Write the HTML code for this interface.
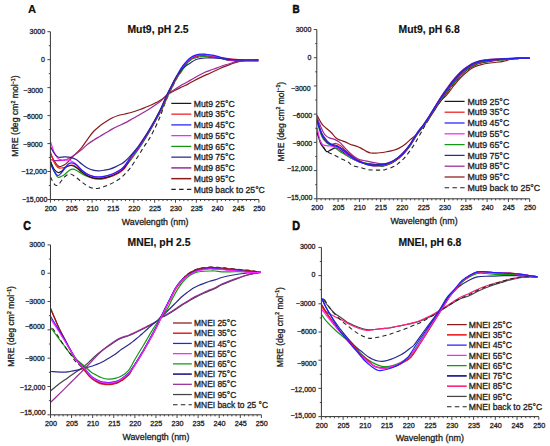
<!DOCTYPE html><html><head><meta charset="utf-8"><style>html,body{margin:0;padding:0;background:#fff;}svg{display:block;}text{font-family:"Liberation Sans", sans-serif;} .t{stroke:#1e1e1e;stroke-width:0.3;} .tb{stroke:#111;stroke-width:0.15;} .tl{stroke:#000;stroke-width:0.55px;}</style></head><body>
<svg width="550" height="446" viewBox="0 0 550 446">
<rect width="550" height="446" fill="#fff"/>
<g><path d="M50.50,153.80 C51.08,154.92 52.67,158.43 54.00,160.50 C55.33,162.57 57.17,165.28 58.50,166.20 C59.83,167.12 60.72,166.43 62.00,166.00 C63.28,165.57 64.70,164.85 66.20,163.60 C67.70,162.35 69.53,160.03 71.00,158.50 C72.47,156.97 73.30,156.12 75.00,154.40 C76.70,152.68 79.15,150.67 81.20,148.20 C83.25,145.73 85.25,142.38 87.30,139.60 C89.35,136.82 91.43,133.77 93.50,131.50 C95.57,129.23 97.63,127.63 99.70,126.00 C101.77,124.37 103.85,123.03 105.90,121.70 C107.95,120.37 109.95,119.03 112.00,118.00 C114.05,116.97 116.03,116.17 118.20,115.50 C120.37,114.83 122.87,114.50 125.00,114.00 C127.13,113.50 128.50,113.25 131.00,112.50 C133.50,111.75 137.57,110.37 140.00,109.50 C142.43,108.63 143.73,108.05 145.60,107.30 C147.47,106.55 149.33,105.85 151.20,105.00 C153.07,104.15 155.12,103.07 156.80,102.20 C158.48,101.33 159.52,101.03 161.30,99.80 C163.08,98.57 165.28,96.35 167.50,94.80 C169.72,93.25 172.12,91.85 174.60,90.50 C177.08,89.15 180.17,87.77 182.40,86.70 C184.63,85.63 186.07,85.10 188.00,84.10 C189.93,83.10 191.97,81.78 194.00,80.70 C196.03,79.62 198.38,78.48 200.20,77.60 C202.02,76.72 203.27,76.13 204.90,75.40 C206.53,74.67 208.48,73.90 210.00,73.20 C211.52,72.50 212.33,71.98 214.00,71.20 C215.67,70.42 218.05,69.35 220.00,68.50 C221.95,67.65 223.88,66.83 225.70,66.10 C227.52,65.37 229.17,64.73 230.90,64.10 C232.63,63.47 234.37,62.80 236.10,62.30 C237.83,61.80 239.57,61.40 241.30,61.10 C243.03,60.80 243.65,60.68 246.50,60.50 C249.35,60.32 256.42,60.08 258.40,60.00" fill="none" stroke="#8a1a1a" stroke-width="1.2" stroke-linejoin="round"/><path d="M50.50,159.50 C51.08,159.68 52.75,160.42 54.00,160.60 C55.25,160.78 56.67,160.63 58.00,160.60 C59.33,160.57 60.62,160.57 62.00,160.40 C63.38,160.23 64.80,160.12 66.30,159.60 C67.80,159.08 69.55,158.13 71.00,157.30 C72.45,156.47 73.30,155.80 75.00,154.60 C76.70,153.40 79.15,151.78 81.20,150.10 C83.25,148.42 85.25,146.15 87.30,144.50 C89.35,142.85 91.43,141.53 93.50,140.20 C95.57,138.87 97.63,137.73 99.70,136.50 C101.77,135.27 103.85,134.03 105.90,132.80 C107.95,131.57 109.95,130.23 112.00,129.10 C114.05,127.97 116.03,127.03 118.20,126.00 C120.37,124.97 122.87,123.97 125.00,122.90 C127.13,121.83 128.50,120.98 131.00,119.60 C133.50,118.22 137.57,116.00 140.00,114.60 C142.43,113.20 143.73,112.33 145.60,111.20 C147.47,110.07 149.33,109.02 151.20,107.80 C153.07,106.58 155.12,105.10 156.80,103.90 C158.48,102.70 159.52,102.15 161.30,100.60 C163.08,99.05 165.28,96.43 167.50,94.60 C169.72,92.77 172.12,91.27 174.60,89.60 C177.08,87.93 180.17,85.95 182.40,84.60 C184.63,83.25 186.03,82.58 188.00,81.50 C189.97,80.42 192.50,79.07 194.20,78.10 C195.90,77.13 196.42,76.67 198.20,75.70 C199.98,74.73 202.93,73.18 204.90,72.30 C206.87,71.42 208.48,70.95 210.00,70.40 C211.52,69.85 212.33,69.62 214.00,69.00 C215.67,68.38 218.05,67.40 220.00,66.70 C221.95,66.00 223.88,65.38 225.70,64.80 C227.52,64.22 229.17,63.72 230.90,63.20 C232.63,62.68 234.37,62.10 236.10,61.70 C237.83,61.30 239.57,61.03 241.30,60.80 C243.03,60.57 243.65,60.43 246.50,60.30 C249.35,60.17 256.42,60.05 258.40,60.00" fill="none" stroke="#9a2a9a" stroke-width="1.2" stroke-linejoin="round"/><path d="M50.50,177.00 C51.20,178.27 53.45,183.27 54.70,184.60 C55.95,185.93 56.78,185.77 58.00,185.00 C59.22,184.23 60.83,181.42 62.00,180.00 C63.17,178.58 63.60,177.50 65.00,176.50 C66.40,175.50 68.53,173.83 70.40,174.00 C72.27,174.17 74.30,176.17 76.20,177.50 C78.10,178.83 79.93,180.60 81.80,182.00 C83.67,183.40 85.53,184.87 87.40,185.90 C89.27,186.93 91.13,187.82 93.00,188.20 C94.87,188.58 96.72,188.48 98.60,188.20 C100.48,187.92 102.42,187.15 104.30,186.50 C106.18,185.85 108.03,185.15 109.90,184.30 C111.77,183.45 113.63,182.48 115.50,181.40 C117.37,180.32 119.52,179.07 121.10,177.80 C122.68,176.53 123.52,175.38 125.00,173.80 C126.48,172.22 128.03,170.90 130.00,168.30 C131.97,165.70 134.57,161.65 136.80,158.20 C139.03,154.75 141.37,150.77 143.40,147.60 C145.43,144.43 147.13,142.33 149.00,139.20 C150.87,136.07 152.73,132.58 154.60,128.80 C156.47,125.02 158.62,120.38 160.20,116.50 C161.78,112.62 163.03,108.42 164.10,105.50 C165.17,102.58 165.75,101.00 166.60,99.00 C167.45,97.00 168.35,95.30 169.20,93.50 C170.05,91.70 170.83,89.98 171.70,88.20 C172.57,86.42 173.50,84.53 174.40,82.80 C175.30,81.07 176.08,79.48 177.10,77.80 C178.12,76.12 179.43,74.27 180.50,72.70 C181.57,71.13 182.23,70.18 183.50,68.40 C184.77,66.62 186.77,63.52 188.10,62.00 C189.43,60.48 190.27,60.03 191.50,59.30 C192.73,58.57 193.93,58.05 195.50,57.60 C197.07,57.15 199.08,56.77 200.90,56.60 C202.72,56.43 204.58,56.50 206.40,56.60 C208.22,56.70 209.53,56.97 211.80,57.20 C214.07,57.43 217.68,57.65 220.00,58.00 C222.32,58.35 223.88,59.00 225.70,59.30 C227.52,59.60 229.17,59.68 230.90,59.80 C232.63,59.92 233.50,59.97 236.10,60.00 C238.70,60.03 242.78,60.00 246.50,60.00 C250.22,60.00 256.42,60.00 258.40,60.00" fill="none" stroke="#222222" stroke-width="1.1" stroke-dasharray="4.2,3.2" stroke-linejoin="round"/><path d="M50.50,161.50 C51.08,163.08 52.75,168.37 54.00,171.00 C55.25,173.63 56.67,176.47 58.00,177.30 C59.33,178.13 60.83,176.52 62.00,176.00 C63.17,175.48 63.75,175.17 65.00,174.20 C66.25,173.23 68.18,171.05 69.50,170.20 C70.82,169.35 71.78,169.10 72.90,169.10 C74.02,169.10 74.72,169.45 76.20,170.20 C77.68,170.95 79.93,172.57 81.80,173.60 C83.67,174.63 85.53,175.65 87.40,176.40 C89.27,177.15 91.13,177.73 93.00,178.10 C94.87,178.47 96.72,178.60 98.60,178.60 C100.48,178.60 102.42,178.47 104.30,178.10 C106.18,177.73 108.03,177.05 109.90,176.40 C111.77,175.75 113.63,175.13 115.50,174.20 C117.37,173.27 119.52,171.97 121.10,170.80 C122.68,169.63 123.23,169.23 125.00,167.20 C126.77,165.17 129.45,161.60 131.70,158.60 C133.95,155.60 136.18,152.62 138.50,149.20 C140.82,145.78 143.48,141.55 145.60,138.10 C147.72,134.65 149.33,131.77 151.20,128.50 C153.07,125.23 154.93,121.85 156.80,118.50 C158.67,115.15 160.80,111.55 162.40,108.40 C164.00,105.25 165.30,102.07 166.40,99.60 C167.50,97.13 168.12,95.50 169.00,93.60 C169.88,91.70 170.80,90.00 171.70,88.20 C172.60,86.40 173.50,84.53 174.40,82.80 C175.30,81.07 176.08,79.48 177.10,77.80 C178.12,76.12 179.43,74.27 180.50,72.70 C181.57,71.13 182.23,70.18 183.50,68.40 C184.77,66.62 186.77,63.52 188.10,62.00 C189.43,60.48 190.27,60.03 191.50,59.30 C192.73,58.57 193.93,58.05 195.50,57.60 C197.07,57.15 199.08,56.77 200.90,56.60 C202.72,56.43 204.58,56.50 206.40,56.60 C208.22,56.70 209.53,56.97 211.80,57.20 C214.07,57.43 217.68,57.65 220.00,58.00 C222.32,58.35 223.88,59.00 225.70,59.30 C227.52,59.60 229.17,59.68 230.90,59.80 C232.63,59.92 233.50,59.97 236.10,60.00 C238.70,60.03 242.78,60.00 246.50,60.00 C250.22,60.00 256.42,60.00 258.40,60.00" fill="none" stroke="#119911" stroke-width="1.2" stroke-linejoin="round"/><path d="M50.50,152.30 C51.08,153.92 52.75,159.47 54.00,162.00 C55.25,164.53 56.83,166.50 58.00,167.50 C59.17,168.50 59.83,168.02 61.00,168.00 C62.17,167.98 63.22,167.87 65.00,167.40 C66.78,166.93 69.83,165.28 71.70,165.20 C73.57,165.12 74.52,165.87 76.20,166.90 C77.88,167.93 79.93,169.92 81.80,171.40 C83.67,172.88 85.53,174.63 87.40,175.80 C89.27,176.97 91.13,177.83 93.00,178.40 C94.87,178.97 96.72,179.17 98.60,179.20 C100.48,179.23 102.42,178.97 104.30,178.60 C106.18,178.23 108.03,177.65 109.90,177.00 C111.77,176.35 113.63,175.63 115.50,174.70 C117.37,173.77 119.52,172.55 121.10,171.40 C122.68,170.25 123.23,170.19 125.00,167.80 C126.77,165.41 129.45,160.33 131.70,157.05 C133.95,153.77 136.20,151.39 138.50,148.10 C140.80,144.81 143.36,140.73 145.50,137.30 C147.64,133.87 149.47,130.76 151.35,127.50 C153.23,124.24 155.07,120.92 156.80,117.75 C158.53,114.58 160.32,111.41 161.75,108.50 C163.18,105.59 164.31,102.67 165.35,100.30 C166.39,97.93 167.11,96.21 168.00,94.30 C168.89,92.39 169.80,90.66 170.70,88.85 C171.60,87.04 172.50,85.22 173.40,83.45 C174.30,81.68 175.14,79.93 176.10,78.25 C177.06,76.57 178.09,75.03 179.15,73.35 C180.21,71.67 181.24,69.92 182.45,68.15 C183.66,66.38 185.17,64.18 186.40,62.75 C187.62,61.32 188.62,60.45 189.80,59.55 C190.98,58.65 192.16,57.94 193.50,57.35 C194.84,56.76 196.38,56.31 197.85,56.00 C199.32,55.69 200.83,55.56 202.30,55.50 C203.78,55.44 205.01,55.55 206.70,55.65 C208.39,55.75 210.73,55.88 212.45,56.10 C214.17,56.32 215.33,56.70 217.00,56.95 C218.67,57.20 220.61,57.33 222.45,57.60 C224.29,57.87 225.78,58.27 228.05,58.55 C230.33,58.83 233.33,59.11 236.10,59.30 C238.87,59.49 243.22,59.63 244.65,59.70" fill="none" stroke="#ee1c1c" stroke-width="1.2" stroke-linejoin="round"/><path d="M50.50,161.50 C51.08,162.75 52.75,167.17 54.00,169.00 C55.25,170.83 56.67,172.17 58.00,172.50 C59.33,172.83 60.67,171.92 62.00,171.00 C63.33,170.08 64.42,167.92 66.00,167.00 C67.58,166.08 69.80,165.42 71.50,165.50 C73.20,165.58 74.48,166.42 76.20,167.50 C77.92,168.58 79.93,170.62 81.80,172.00 C83.67,173.38 85.53,174.83 87.40,175.80 C89.27,176.77 91.13,177.38 93.00,177.80 C94.87,178.22 96.72,178.30 98.60,178.30 C100.48,178.30 102.42,178.12 104.30,177.80 C106.18,177.48 108.03,177.03 109.90,176.40 C111.77,175.77 113.63,174.98 115.50,174.00 C117.37,173.02 119.52,171.70 121.10,170.50 C122.68,169.30 123.23,169.13 125.00,166.80 C126.77,164.47 129.45,159.63 131.70,156.50 C133.95,153.37 136.22,151.17 138.50,148.00 C140.78,144.83 143.23,140.92 145.40,137.50 C147.57,134.08 149.60,130.75 151.50,127.50 C153.40,124.25 155.20,120.98 156.80,118.00 C158.40,115.02 159.85,112.27 161.10,109.60 C162.35,106.93 163.32,104.27 164.30,102.00 C165.28,99.73 166.10,97.92 167.00,96.00 C167.90,94.08 168.80,92.32 169.70,90.50 C170.60,88.68 171.50,86.90 172.40,85.10 C173.30,83.30 174.20,81.38 175.10,79.70 C176.00,78.02 176.75,76.80 177.80,75.00 C178.85,73.20 180.25,70.65 181.40,68.90 C182.55,67.15 183.58,65.85 184.70,64.50 C185.82,63.15 186.97,61.87 188.10,60.80 C189.23,59.73 190.38,58.83 191.50,58.10 C192.62,57.37 193.68,56.85 194.80,56.40 C195.92,55.95 197.07,55.62 198.20,55.40 C199.33,55.18 200.48,55.13 201.60,55.10 C202.72,55.07 203.78,55.12 204.90,55.20 C206.02,55.28 206.78,55.40 208.30,55.60 C209.82,55.80 212.05,55.98 214.00,56.40 C215.95,56.82 218.05,57.57 220.00,58.10 C221.95,58.63 223.88,59.22 225.70,59.60 C227.52,59.98 229.17,60.20 230.90,60.40 C232.63,60.60 233.50,60.70 236.10,60.80 C238.70,60.90 242.78,60.97 246.50,61.00 C250.22,61.03 256.42,61.00 258.40,61.00" fill="none" stroke="#1a1a1a" stroke-width="1.2" stroke-linejoin="round"/><path d="M50.50,141.80 C51.08,143.50 52.77,149.23 54.00,152.00 C55.23,154.77 56.47,157.03 57.90,158.40 C59.33,159.77 61.42,159.97 62.60,160.20 C63.78,160.43 63.67,159.72 65.00,159.80 C66.33,159.88 68.73,159.98 70.60,160.70 C72.47,161.41 74.33,162.51 76.20,164.09 C78.07,165.67 79.93,168.53 81.80,170.20 C83.67,171.87 85.53,173.08 87.40,174.10 C89.27,175.12 91.13,175.83 93.00,176.30 C94.87,176.77 96.72,176.90 98.60,176.90 C100.48,176.90 102.42,176.58 104.30,176.30 C106.18,176.02 108.03,175.75 109.90,175.20 C111.77,174.65 113.63,173.93 115.50,173.00 C117.37,172.07 119.52,170.87 121.10,169.60 C122.68,168.33 123.23,167.62 125.00,165.40 C126.77,163.18 129.45,159.23 131.70,156.30 C133.95,153.37 136.22,150.97 138.50,147.80 C140.78,144.63 143.23,140.72 145.40,137.30 C147.57,133.88 149.60,130.55 151.50,127.30 C153.40,124.05 155.20,120.78 156.80,117.80 C158.40,114.82 159.85,112.07 161.10,109.40 C162.35,106.73 163.32,104.07 164.30,101.80 C165.28,99.53 166.10,97.72 167.00,95.80 C167.90,93.88 168.80,92.12 169.70,90.30 C170.60,88.48 171.50,86.70 172.40,84.90 C173.30,83.10 174.20,81.18 175.10,79.50 C176.00,77.82 176.75,76.60 177.80,74.80 C178.85,73.00 180.25,70.45 181.40,68.70 C182.55,66.95 183.58,65.65 184.70,64.30 C185.82,62.95 186.97,61.67 188.10,60.60 C189.23,59.53 190.38,58.63 191.50,57.90 C192.62,57.17 193.68,56.65 194.80,56.20 C195.92,55.75 197.07,55.42 198.20,55.20 C199.33,54.98 200.48,54.93 201.60,54.90 C202.72,54.87 203.78,54.92 204.90,55.00 C206.02,55.08 206.78,55.20 208.30,55.40 C209.82,55.60 212.05,55.78 214.00,56.20 C215.95,56.62 218.05,57.37 220.00,57.90 C221.95,58.43 223.88,59.02 225.70,59.40 C227.52,59.78 229.17,60.00 230.90,60.20 C232.63,60.40 233.50,60.50 236.10,60.60 C238.70,60.70 242.78,60.77 246.50,60.80 C250.22,60.83 256.42,60.80 258.40,60.80" fill="none" stroke="#ff20ff" stroke-width="1.2" stroke-linejoin="round"/><path d="M50.50,164.00 C51.08,165.17 52.75,169.08 54.00,171.00 C55.25,172.92 56.67,175.33 58.00,175.50 C59.33,175.67 60.83,173.25 62.00,172.00 C63.17,170.75 63.93,169.32 65.00,168.00 C66.07,166.68 67.28,164.95 68.40,164.10 C69.52,163.25 70.40,162.78 71.70,162.90 C73.00,163.02 74.52,163.59 76.20,164.82 C77.88,166.05 79.93,168.74 81.80,170.30 C83.67,171.86 85.53,173.18 87.40,174.20 C89.27,175.22 91.13,175.93 93.00,176.40 C94.87,176.87 96.72,177.00 98.60,177.00 C100.48,177.00 102.42,176.77 104.30,176.40 C106.18,176.03 108.03,175.45 109.90,174.80 C111.77,174.15 113.63,173.43 115.50,172.50 C117.37,171.57 119.52,170.40 121.10,169.20 C122.68,168.00 123.23,167.58 125.00,165.30 C126.77,163.02 129.45,158.55 131.70,155.50 C133.95,152.45 136.22,150.17 138.50,147.00 C140.78,143.83 143.23,139.92 145.40,136.50 C147.57,133.08 149.60,129.75 151.50,126.50 C153.40,123.25 155.20,119.98 156.80,117.00 C158.40,114.02 159.85,111.27 161.10,108.60 C162.35,105.93 163.32,103.27 164.30,101.00 C165.28,98.73 166.10,96.92 167.00,95.00 C167.90,93.08 168.80,91.32 169.70,89.50 C170.60,87.68 171.50,85.90 172.40,84.10 C173.30,82.30 174.20,80.38 175.10,78.70 C176.00,77.02 176.75,75.80 177.80,74.00 C178.85,72.20 180.25,69.65 181.40,67.90 C182.55,66.15 183.58,64.85 184.70,63.50 C185.82,62.15 186.97,60.87 188.10,59.80 C189.23,58.73 190.38,57.83 191.50,57.10 C192.62,56.37 193.68,55.85 194.80,55.40 C195.92,54.95 197.07,54.62 198.20,54.40 C199.33,54.18 200.48,54.13 201.60,54.10 C202.72,54.07 203.78,54.12 204.90,54.20 C206.02,54.28 206.78,54.40 208.30,54.60 C209.82,54.80 212.05,54.98 214.00,55.40 C215.95,55.82 218.05,56.57 220.00,57.10 C221.95,57.63 223.88,58.22 225.70,58.60 C227.52,58.98 229.17,59.20 230.90,59.40 C232.63,59.60 233.50,59.70 236.10,59.80 C238.70,59.90 242.78,59.97 246.50,60.00 C250.22,60.03 256.42,60.00 258.40,60.00" fill="none" stroke="#2020ff" stroke-width="1.2" stroke-linejoin="round"/><path d="M50.50,146.70 C51.08,147.75 52.77,151.28 54.00,153.00 C55.23,154.72 56.43,156.32 57.90,157.00 C59.37,157.68 61.62,157.13 62.80,157.10 C63.98,157.07 63.70,156.77 65.00,156.80 C66.30,156.83 68.73,156.83 70.60,157.30 C72.47,157.77 74.33,158.47 76.20,159.60 C78.07,160.73 79.93,162.70 81.80,164.10 C83.67,165.50 85.53,166.98 87.40,168.00 C89.27,169.02 91.13,169.73 93.00,170.20 C94.87,170.67 96.72,170.80 98.60,170.80 C100.48,170.80 102.42,170.48 104.30,170.20 C106.18,169.92 108.03,169.65 109.90,169.10 C111.77,168.55 113.63,167.73 115.50,166.90 C117.37,166.07 119.52,165.03 121.10,164.10 C122.68,163.17 123.23,162.93 125.00,161.30 C126.77,159.67 129.45,156.85 131.70,154.30 C133.95,151.75 136.22,149.10 138.50,146.00 C140.78,142.90 143.23,139.08 145.40,135.70 C147.57,132.32 149.60,128.95 151.50,125.70 C153.40,122.45 155.20,119.15 156.80,116.20 C158.40,113.25 159.85,110.58 161.10,108.00 C162.35,105.42 163.32,102.92 164.30,100.70 C165.28,98.48 166.10,96.60 167.00,94.70 C167.90,92.80 168.80,91.08 169.70,89.30 C170.60,87.52 171.50,85.75 172.40,84.00 C173.30,82.25 174.20,80.38 175.10,78.80 C176.00,77.22 176.75,75.97 177.80,74.50 C178.85,73.03 180.25,71.30 181.40,70.00 C182.55,68.70 183.27,67.83 184.70,66.70 C186.13,65.57 188.20,64.37 190.00,63.20 C191.80,62.03 193.68,60.52 195.50,59.70 C197.32,58.88 199.08,58.58 200.90,58.30 C202.72,58.02 204.58,58.05 206.40,58.00 C208.22,57.95 209.53,57.93 211.80,58.00 C214.07,58.07 217.68,58.22 220.00,58.40 C222.32,58.58 223.02,58.87 225.70,59.10 C228.38,59.33 232.63,59.65 236.10,59.80 C239.57,59.95 242.78,59.97 246.50,60.00 C250.22,60.03 256.42,60.00 258.40,60.00" fill="none" stroke="#2a2a8e" stroke-width="1.2" stroke-linejoin="round"/><path d="M50.40,31.70 V199.50 H258.90" fill="none" stroke="#333" stroke-width="1"/><path d="M47.40,31.70 H50.40" stroke="#333" stroke-width="0.9"/><text class="t" x="45.10" y="34.00" font-size="7" text-anchor="end" fill="#1e1e1e">3000</text><path d="M48.80,45.68 H50.40" stroke="#333" stroke-width="0.9"/><path d="M47.40,59.67 H50.40" stroke="#333" stroke-width="0.9"/><text class="t" x="44.90" y="61.90" font-size="7" text-anchor="end" fill="#1e1e1e">0</text><path d="M48.80,73.65 H50.40" stroke="#333" stroke-width="0.9"/><path d="M47.40,87.63 H50.40" stroke="#333" stroke-width="0.9"/><text class="t" x="43.00" y="92.50" font-size="7" text-anchor="end" fill="#1e1e1e">−3000</text><path d="M48.80,101.62 H50.40" stroke="#333" stroke-width="0.9"/><path d="M47.40,115.60 H50.40" stroke="#333" stroke-width="0.9"/><text class="t" x="42.60" y="119.00" font-size="7" text-anchor="end" fill="#1e1e1e">−6000</text><path d="M48.80,129.58 H50.40" stroke="#333" stroke-width="0.9"/><path d="M47.40,143.57 H50.40" stroke="#333" stroke-width="0.9"/><text class="t" x="42.60" y="146.70" font-size="7" text-anchor="end" fill="#1e1e1e">−9000</text><path d="M48.80,157.55 H50.40" stroke="#333" stroke-width="0.9"/><path d="M47.40,171.53 H50.40" stroke="#333" stroke-width="0.9"/><text class="t" x="46.80" y="173.60" font-size="7" text-anchor="end" fill="#1e1e1e">−12,000</text><path d="M48.80,185.52 H50.40" stroke="#333" stroke-width="0.9"/><path d="M47.40,199.50 H50.40" stroke="#333" stroke-width="0.9"/><text class="t" x="47.40" y="202.10" font-size="7" text-anchor="end" fill="#1e1e1e">−15,000</text><path d="M50.40,199.50 V202.70" stroke="#333" stroke-width="0.9"/><text class="t" x="50.80" y="211.10" font-size="7.2" text-anchor="middle" fill="#1e1e1e">200</text><path d="M54.57,199.50 V201.10" stroke="#333" stroke-width="0.9"/><path d="M58.74,199.50 V201.10" stroke="#333" stroke-width="0.9"/><path d="M62.91,199.50 V201.10" stroke="#333" stroke-width="0.9"/><path d="M67.08,199.50 V201.10" stroke="#333" stroke-width="0.9"/><path d="M71.25,199.50 V202.70" stroke="#333" stroke-width="0.9"/><text class="t" x="71.65" y="211.10" font-size="7.2" text-anchor="middle" fill="#1e1e1e">205</text><path d="M75.42,199.50 V201.10" stroke="#333" stroke-width="0.9"/><path d="M79.59,199.50 V201.10" stroke="#333" stroke-width="0.9"/><path d="M83.76,199.50 V201.10" stroke="#333" stroke-width="0.9"/><path d="M87.93,199.50 V201.10" stroke="#333" stroke-width="0.9"/><path d="M92.10,199.50 V202.70" stroke="#333" stroke-width="0.9"/><text class="t" x="92.50" y="211.10" font-size="7.2" text-anchor="middle" fill="#1e1e1e">210</text><path d="M96.27,199.50 V201.10" stroke="#333" stroke-width="0.9"/><path d="M100.44,199.50 V201.10" stroke="#333" stroke-width="0.9"/><path d="M104.61,199.50 V201.10" stroke="#333" stroke-width="0.9"/><path d="M108.78,199.50 V201.10" stroke="#333" stroke-width="0.9"/><path d="M112.95,199.50 V202.70" stroke="#333" stroke-width="0.9"/><text class="t" x="113.35" y="211.10" font-size="7.2" text-anchor="middle" fill="#1e1e1e">215</text><path d="M117.12,199.50 V201.10" stroke="#333" stroke-width="0.9"/><path d="M121.29,199.50 V201.10" stroke="#333" stroke-width="0.9"/><path d="M125.46,199.50 V201.10" stroke="#333" stroke-width="0.9"/><path d="M129.63,199.50 V201.10" stroke="#333" stroke-width="0.9"/><path d="M133.80,199.50 V202.70" stroke="#333" stroke-width="0.9"/><text class="t" x="134.20" y="211.10" font-size="7.2" text-anchor="middle" fill="#1e1e1e">220</text><path d="M137.97,199.50 V201.10" stroke="#333" stroke-width="0.9"/><path d="M142.14,199.50 V201.10" stroke="#333" stroke-width="0.9"/><path d="M146.31,199.50 V201.10" stroke="#333" stroke-width="0.9"/><path d="M150.48,199.50 V201.10" stroke="#333" stroke-width="0.9"/><path d="M154.65,199.50 V202.70" stroke="#333" stroke-width="0.9"/><text class="t" x="155.05" y="211.10" font-size="7.2" text-anchor="middle" fill="#1e1e1e">225</text><path d="M158.82,199.50 V201.10" stroke="#333" stroke-width="0.9"/><path d="M162.99,199.50 V201.10" stroke="#333" stroke-width="0.9"/><path d="M167.16,199.50 V201.10" stroke="#333" stroke-width="0.9"/><path d="M171.33,199.50 V201.10" stroke="#333" stroke-width="0.9"/><path d="M175.50,199.50 V202.70" stroke="#333" stroke-width="0.9"/><text class="t" x="175.90" y="211.10" font-size="7.2" text-anchor="middle" fill="#1e1e1e">230</text><path d="M179.67,199.50 V201.10" stroke="#333" stroke-width="0.9"/><path d="M183.84,199.50 V201.10" stroke="#333" stroke-width="0.9"/><path d="M188.01,199.50 V201.10" stroke="#333" stroke-width="0.9"/><path d="M192.18,199.50 V201.10" stroke="#333" stroke-width="0.9"/><path d="M196.35,199.50 V202.70" stroke="#333" stroke-width="0.9"/><text class="t" x="196.75" y="211.10" font-size="7.2" text-anchor="middle" fill="#1e1e1e">235</text><path d="M200.52,199.50 V201.10" stroke="#333" stroke-width="0.9"/><path d="M204.69,199.50 V201.10" stroke="#333" stroke-width="0.9"/><path d="M208.86,199.50 V201.10" stroke="#333" stroke-width="0.9"/><path d="M213.03,199.50 V201.10" stroke="#333" stroke-width="0.9"/><path d="M217.20,199.50 V202.70" stroke="#333" stroke-width="0.9"/><text class="t" x="217.60" y="211.10" font-size="7.2" text-anchor="middle" fill="#1e1e1e">240</text><path d="M221.37,199.50 V201.10" stroke="#333" stroke-width="0.9"/><path d="M225.54,199.50 V201.10" stroke="#333" stroke-width="0.9"/><path d="M229.71,199.50 V201.10" stroke="#333" stroke-width="0.9"/><path d="M233.88,199.50 V201.10" stroke="#333" stroke-width="0.9"/><path d="M238.05,199.50 V202.70" stroke="#333" stroke-width="0.9"/><text class="t" x="238.45" y="211.10" font-size="7.2" text-anchor="middle" fill="#1e1e1e">245</text><path d="M242.22,199.50 V201.10" stroke="#333" stroke-width="0.9"/><path d="M246.39,199.50 V201.10" stroke="#333" stroke-width="0.9"/><path d="M250.56,199.50 V201.10" stroke="#333" stroke-width="0.9"/><path d="M254.73,199.50 V201.10" stroke="#333" stroke-width="0.9"/><path d="M258.90,199.50 V202.70" stroke="#333" stroke-width="0.9"/><text class="t" x="259.30" y="211.10" font-size="7.2" text-anchor="middle" fill="#1e1e1e">250</text><text class="t" x="155.20" y="224.50" font-size="8.8" text-anchor="middle" fill="#1e1e1e">Wavelength (nm)</text><text class="t" transform="translate(17.95,116.00) rotate(-90)" font-size="8.7" text-anchor="middle" fill="#1e1e1e">MRE (deg cm<tspan font-size="5.22" dy="-3.31">2</tspan><tspan dy="3.31"> mol</tspan><tspan font-size="5.22" dy="-3.31">−1</tspan><tspan dy="3.31">)</tspan></text><text class="tb" x="158.00" y="33.00" font-size="10.4" font-weight="bold" text-anchor="middle" fill="#111">Mut9, pH 2.5</text><text class="tb" transform="translate(28.00,12.60) scale(0.950,1)" font-size="11.80" font-weight="bold" fill="#111">A</text><path d="M171.30,103.40 H191.30" stroke="#1a1a1a" stroke-width="1.25"/><text class="t" x="193.80" y="106.55" font-size="8.65" fill="#1e1e1e">Mut9 25°C</text><path d="M171.30,114.15 H191.30" stroke="#ee1c1c" stroke-width="1.25"/><text class="t" x="193.80" y="117.30" font-size="8.65" fill="#1e1e1e">Mut9 35°C</text><path d="M171.30,124.90 H191.30" stroke="#2020ff" stroke-width="1.25"/><text class="t" x="193.80" y="128.05" font-size="8.65" fill="#1e1e1e">Mut9 45°C</text><path d="M171.30,135.65 H191.30" stroke="#ff20ff" stroke-width="1.25"/><text class="t" x="193.80" y="138.80" font-size="8.65" fill="#1e1e1e">Mut9 55°C</text><path d="M171.30,146.40 H191.30" stroke="#119911" stroke-width="1.25"/><text class="t" x="193.80" y="149.55" font-size="8.65" fill="#1e1e1e">Mut9 65°C</text><path d="M171.30,157.15 H191.30" stroke="#2a2a8e" stroke-width="1.25"/><text class="t" x="193.80" y="160.30" font-size="8.65" fill="#1e1e1e">Mut9 75°C</text><path d="M171.30,167.90 H191.30" stroke="#9a2a9a" stroke-width="1.50"/><text class="t" x="193.80" y="171.05" font-size="8.65" fill="#1e1e1e">Mut9 85°C</text><path d="M171.30,178.65 H191.30" stroke="#8a1a1a" stroke-width="1.50"/><text class="t" x="193.80" y="181.80" font-size="8.65" fill="#1e1e1e">Mut9 95°C</text><path d="M171.30,189.40 H191.30" stroke="#222222" stroke-width="1.1" stroke-dasharray="4.5,3.3"/><text class="t" x="193.80" y="192.55" font-size="8.65" fill="#1e1e1e">Mut9 back to 25°C</text></g>
<g><path d="M317.10,115.20 C317.88,116.63 320.22,121.58 321.80,123.80 C323.38,126.02 325.02,127.05 326.60,128.50 C328.18,129.95 329.73,130.92 331.30,132.50 C332.87,134.08 334.43,136.70 336.00,138.00 C337.57,139.30 339.13,139.65 340.70,140.30 C342.27,140.95 343.85,141.23 345.40,141.90 C346.95,142.57 348.32,143.63 350.00,144.30 C351.68,144.97 353.68,145.27 355.50,145.90 C357.32,146.53 359.08,147.18 360.90,148.10 C362.72,149.02 364.77,150.58 366.40,151.40 C368.03,152.22 368.88,152.73 370.70,153.00 C372.52,153.27 375.30,153.08 377.30,153.00 C379.30,152.92 380.88,152.77 382.70,152.50 C384.52,152.23 386.38,151.77 388.20,151.40 C390.02,151.03 391.78,150.85 393.60,150.30 C395.42,149.75 397.28,149.02 399.10,148.10 C400.92,147.18 402.68,146.17 404.50,144.80 C406.32,143.43 407.83,141.77 410.00,139.90 C412.17,138.03 415.28,135.87 417.50,133.60 C419.72,131.33 421.35,128.85 423.30,126.30 C425.25,123.75 427.25,121.08 429.20,118.30 C431.15,115.52 433.07,112.52 435.00,109.60 C436.93,106.68 438.83,103.27 440.80,100.80 C442.77,98.33 444.87,97.02 446.80,94.80 C448.73,92.58 450.53,89.88 452.40,87.50 C454.27,85.12 456.13,82.62 458.00,80.50 C459.87,78.38 461.72,76.57 463.60,74.80 C465.48,73.03 467.42,71.23 469.30,69.90 C471.18,68.57 473.03,67.65 474.90,66.80 C476.77,65.95 477.98,65.43 480.50,64.80 C483.02,64.17 486.37,63.53 490.00,63.00 C493.63,62.47 499.43,62.05 502.30,61.60 C505.17,61.15 505.38,60.78 507.20,60.30 C509.02,59.82 511.07,59.05 513.20,58.70 C515.33,58.35 517.27,58.30 520.00,58.20 C522.73,58.10 528.00,58.12 529.60,58.10" fill="none" stroke="#8a1a1a" stroke-width="1.2" stroke-linejoin="round"/><path d="M317.10,133.30 C317.88,135.12 320.22,141.20 321.80,144.20 C323.38,147.20 324.77,149.60 326.60,151.30 C328.43,153.00 330.45,153.22 332.80,154.40 C335.15,155.58 338.08,157.08 340.70,158.40 C343.32,159.72 346.58,161.15 348.50,162.30 C350.42,163.45 350.13,164.40 352.20,165.30 C354.27,166.20 358.18,166.97 360.90,167.70 C363.62,168.43 365.77,169.30 368.50,169.70 C371.23,170.10 374.57,170.10 377.30,170.10 C380.03,170.10 382.18,170.28 384.90,169.70 C387.62,169.12 391.23,167.75 393.60,166.60 C395.97,165.45 397.28,164.25 399.10,162.80 C400.92,161.35 402.65,159.97 404.50,157.90 C406.35,155.83 408.28,153.12 410.20,150.40 C412.12,147.68 413.82,145.25 416.00,141.60 C418.18,137.95 421.23,132.13 423.30,128.50 C425.37,124.87 426.93,122.35 428.40,119.80 C429.87,117.25 430.00,116.42 432.10,113.20 C434.20,109.98 438.55,103.98 441.00,100.50 C443.45,97.02 443.97,96.02 446.80,92.30 C449.63,88.58 455.20,81.50 458.00,78.20 C460.80,74.90 461.72,74.17 463.60,72.50 C465.48,70.83 467.42,69.43 469.30,68.20 C471.18,66.97 473.03,65.97 474.90,65.10 C476.77,64.23 477.98,63.63 480.50,63.00 C483.02,62.37 486.75,61.80 490.00,61.30 C493.25,60.80 496.37,60.38 500.00,60.00 C503.63,59.62 508.53,59.27 511.80,59.00 C515.07,58.73 516.63,58.55 519.60,58.40 C522.57,58.25 527.93,58.15 529.60,58.10" fill="none" stroke="#222222" stroke-width="1.1" stroke-dasharray="4.2,3.2" stroke-linejoin="round"/><path d="M317.10,131.70 C317.63,133.53 319.25,140.08 320.30,142.70 C321.35,145.32 322.35,145.92 323.40,147.40 C324.45,148.88 325.55,151.08 326.60,151.60 C327.65,152.12 328.40,151.07 329.70,150.50 C331.00,149.93 333.02,148.53 334.40,148.20 C335.78,147.87 336.68,147.95 338.00,148.50 C339.32,149.05 340.28,150.05 342.30,151.50 C344.32,152.95 347.48,155.53 350.10,157.20 C352.72,158.87 355.38,160.37 358.00,161.50 C360.62,162.63 363.13,163.35 365.80,164.00 C368.47,164.65 371.18,165.05 374.00,165.40 C376.82,165.75 380.33,166.25 382.70,166.10 C385.07,165.95 386.38,165.20 388.20,164.50 C390.02,163.80 391.78,162.98 393.60,161.90 C395.42,160.82 397.28,159.52 399.10,158.00 C400.92,156.48 402.68,154.80 404.50,152.80 C406.32,150.80 407.83,149.17 410.00,146.00 C412.17,142.83 415.28,137.05 417.50,133.80 C419.72,130.55 421.35,129.13 423.30,126.50 C425.25,123.87 427.25,121.00 429.20,118.00 C431.15,115.00 433.03,111.45 435.00,108.50 C436.97,105.55 439.03,102.95 441.00,100.30 C442.97,97.65 444.90,95.15 446.80,92.60 C448.70,90.05 450.53,87.40 452.40,85.00 C454.27,82.60 456.13,80.28 458.00,78.20 C459.87,76.12 461.72,74.17 463.60,72.50 C465.48,70.83 467.42,69.43 469.30,68.20 C471.18,66.97 473.03,65.97 474.90,65.10 C476.77,64.23 477.98,63.63 480.50,63.00 C483.02,62.37 486.75,61.80 490.00,61.30 C493.25,60.80 496.37,60.38 500.00,60.00 C503.63,59.62 508.53,59.27 511.80,59.00 C515.07,58.73 516.63,58.55 519.60,58.40 C522.57,58.25 527.93,58.15 529.60,58.10" fill="none" stroke="#1a1a1a" stroke-width="1.2" stroke-linejoin="round"/><path d="M317.10,122.30 C317.88,124.65 320.22,133.00 321.80,136.40 C323.38,139.80 324.50,140.87 326.60,142.70 C328.70,144.53 331.78,145.70 334.40,147.40 C337.02,149.10 339.68,151.20 342.30,152.90 C344.92,154.60 347.48,156.30 350.10,157.60 C352.72,158.90 355.38,159.78 358.00,160.70 C360.62,161.62 363.13,162.50 365.80,163.10 C368.47,163.70 371.18,163.86 374.00,164.30 C376.82,164.74 380.33,165.76 382.70,165.75 C385.07,165.75 386.38,164.92 388.20,164.25 C390.02,163.57 391.78,162.77 393.60,161.69 C395.42,160.61 397.28,159.31 399.10,157.79 C400.92,156.27 402.68,154.57 404.50,152.56 C406.32,150.55 407.83,148.91 410.00,145.75 C412.17,142.58 415.28,136.83 417.50,133.58 C419.72,130.33 421.35,128.89 423.30,126.24 C425.25,123.60 427.25,120.71 429.20,117.70 C431.15,114.69 433.03,111.20 435.00,108.20 C436.97,105.20 439.06,102.43 441.03,99.73 C443.00,97.03 444.90,94.54 446.80,91.98 C448.69,89.43 450.53,86.79 452.40,84.40 C454.27,82.01 456.13,79.71 458.00,77.64 C459.87,75.58 461.72,73.65 463.60,72.00 C465.48,70.36 467.42,68.97 469.30,67.75 C471.18,66.53 473.03,65.55 474.90,64.69 C476.77,63.84 477.98,63.25 480.50,62.64 C483.02,62.03 486.75,61.48 490.00,61.02 C493.25,60.55 496.37,60.17 500.00,59.82 C503.63,59.47 508.53,59.14 511.80,58.89 C515.07,58.65 516.63,58.49 519.60,58.36 C522.57,58.22 527.93,58.14 529.60,58.10" fill="none" stroke="#119911" stroke-width="1.2" stroke-linejoin="round"/><path d="M317.10,119.10 C317.88,121.72 320.22,131.00 321.80,134.80 C323.38,138.60 325.02,140.33 326.60,141.90 C328.18,143.47 329.73,143.93 331.30,144.20 C332.87,144.47 334.43,143.23 336.00,143.50 C337.57,143.77 339.13,144.63 340.70,145.80 C342.27,146.97 343.32,148.67 345.40,150.50 C347.48,152.33 350.58,154.97 353.20,156.80 C355.82,158.63 358.75,160.20 361.10,161.50 C363.45,162.80 365.15,163.88 367.30,164.60 C369.45,165.32 371.43,165.70 374.00,165.80 C376.57,165.90 380.33,165.51 382.70,165.18 C385.07,164.85 386.38,164.46 388.20,163.82 C390.02,163.18 391.78,162.40 393.60,161.34 C395.42,160.28 397.28,158.97 399.10,157.44 C400.92,155.91 402.68,154.18 404.50,152.16 C406.32,150.14 407.83,148.48 410.00,145.32 C412.17,142.16 415.28,136.45 417.50,133.20 C419.72,129.95 421.35,128.49 423.30,125.82 C425.25,123.15 427.25,120.22 429.20,117.20 C431.15,114.18 433.02,110.77 435.00,107.70 C436.98,104.63 439.11,101.57 441.08,98.78 C443.05,95.99 444.91,93.52 446.80,90.96 C448.69,88.40 450.53,85.77 452.40,83.40 C454.27,81.03 456.13,78.76 458.00,76.72 C459.87,74.68 461.72,72.80 463.60,71.18 C465.48,69.56 467.42,68.19 469.30,67.00 C471.18,65.81 473.03,64.85 474.90,64.02 C476.77,63.19 477.98,62.62 480.50,62.04 C483.02,61.46 486.75,60.96 490.00,60.54 C493.25,60.12 496.37,59.82 500.00,59.52 C503.63,59.22 508.53,58.93 511.80,58.72 C515.07,58.51 516.63,58.38 519.60,58.28 C522.57,58.18 527.93,58.13 529.60,58.10" fill="none" stroke="#ee1c1c" stroke-width="1.2" stroke-linejoin="round"/><path d="M317.10,117.60 C317.63,118.90 319.25,122.92 320.30,125.40 C321.35,127.88 322.35,130.67 323.40,132.50 C324.45,134.33 325.50,135.47 326.60,136.40 C327.70,137.33 328.60,137.57 330.00,138.10 C331.40,138.63 333.32,138.85 335.00,139.60 C336.68,140.35 338.42,141.17 340.10,142.60 C341.78,144.03 343.42,146.43 345.10,148.20 C346.78,149.97 348.52,151.68 350.20,153.20 C351.88,154.72 353.53,156.20 355.20,157.30 C356.87,158.40 358.52,159.22 360.20,159.80 C361.88,160.38 363.62,160.47 365.30,160.80 C366.98,161.13 368.85,161.50 370.30,161.80 C371.75,162.10 371.93,162.27 374.00,162.60 C376.07,162.93 380.33,163.77 382.70,163.80 C385.07,163.83 386.38,163.35 388.20,162.80 C390.02,162.25 391.78,161.53 393.60,160.50 C395.42,159.47 397.28,158.15 399.10,156.60 C400.92,155.05 402.68,153.25 404.50,151.20 C406.32,149.15 407.83,147.45 410.00,144.30 C412.17,141.15 415.28,135.55 417.50,132.30 C419.72,129.05 421.35,127.52 423.30,124.80 C425.25,122.08 427.25,119.05 429.20,116.00 C431.15,112.95 433.00,109.75 435.00,106.50 C437.00,103.25 439.23,99.50 441.20,96.50 C443.17,93.50 444.93,91.08 446.80,88.50 C448.67,85.92 450.53,83.33 452.40,81.00 C454.27,78.67 456.13,76.47 458.00,74.50 C459.87,72.53 461.72,70.75 463.60,69.20 C465.48,67.65 467.42,66.33 469.30,65.20 C471.18,64.07 473.03,63.17 474.90,62.40 C476.77,61.63 477.98,61.10 480.50,60.60 C483.02,60.10 486.75,59.70 490.00,59.40 C493.25,59.10 496.37,58.98 500.00,58.80 C503.63,58.62 508.53,58.42 511.80,58.30 C515.07,58.18 516.63,58.13 519.60,58.10 C522.57,58.07 527.93,58.10 529.60,58.10" fill="none" stroke="#9a2a9a" stroke-width="1.2" stroke-linejoin="round"/><path d="M317.10,127.80 C317.63,130.02 319.25,138.23 320.30,141.10 C321.35,143.97 322.10,144.22 323.40,145.00 C324.70,145.78 326.27,145.53 328.10,145.80 C329.93,146.07 332.03,145.82 334.40,146.60 C336.77,147.38 339.68,148.80 342.30,150.50 C344.92,152.20 347.48,154.97 350.10,156.80 C352.72,158.63 355.38,160.32 358.00,161.50 C360.62,162.68 363.13,163.32 365.80,163.90 C368.47,164.48 371.18,164.90 374.00,165.00 C376.82,165.10 380.33,164.77 382.70,164.49 C385.07,164.21 386.38,163.91 388.20,163.31 C390.02,162.72 391.78,161.97 393.60,160.92 C395.42,159.87 397.28,158.56 399.10,157.02 C400.92,155.48 402.68,153.72 404.50,151.68 C406.32,149.65 407.83,147.97 410.00,144.81 C412.17,141.66 415.28,136.00 417.50,132.75 C419.72,129.50 421.35,128.00 423.30,125.31 C425.25,122.62 427.25,119.63 429.20,116.60 C431.15,113.56 433.01,110.26 435.00,107.10 C436.99,103.94 439.17,100.53 441.14,97.64 C443.11,94.74 444.92,92.30 446.80,89.73 C448.68,87.16 450.53,84.55 452.40,82.20 C454.27,79.85 456.13,77.61 458.00,75.61 C459.87,73.61 461.72,71.78 463.60,70.19 C465.48,68.60 467.42,67.26 469.30,66.10 C471.18,64.94 473.03,64.01 474.90,63.21 C476.77,62.41 477.98,61.86 480.50,61.32 C483.02,60.78 486.75,60.33 490.00,59.97 C493.25,59.61 496.37,59.40 500.00,59.16 C503.63,58.92 508.53,58.67 511.80,58.51 C515.07,58.35 516.63,58.26 519.60,58.19 C522.57,58.12 527.93,58.12 529.60,58.10" fill="none" stroke="#ff20ff" stroke-width="1.2" stroke-linejoin="round"/><path d="M317.10,119.90 C317.88,122.13 320.22,129.90 321.80,133.30 C323.38,136.70 325.02,138.48 326.60,140.30 C328.18,142.12 329.48,143.28 331.30,144.20 C333.12,145.12 335.15,144.62 337.50,145.80 C339.85,146.98 342.78,149.33 345.40,151.30 C348.02,153.27 350.58,155.77 353.20,157.60 C355.82,159.43 357.63,161.13 361.10,162.30 C364.57,163.47 370.40,164.29 374.00,164.60 C377.60,164.91 380.33,164.40 382.70,164.15 C385.07,163.89 386.38,163.63 388.20,163.06 C390.02,162.48 391.78,161.75 393.60,160.71 C395.42,159.67 397.28,158.35 399.10,156.81 C400.92,155.26 402.68,153.48 404.50,151.44 C406.32,149.40 407.83,147.71 410.00,144.56 C412.17,141.40 415.28,135.78 417.50,132.53 C419.72,129.28 421.35,127.76 423.30,125.05 C425.25,122.35 427.25,119.34 429.20,116.30 C431.15,113.26 433.00,110.00 435.00,106.80 C437.00,103.59 439.20,100.02 441.17,97.07 C443.14,94.12 444.93,91.69 446.80,89.11 C448.67,86.54 450.53,83.94 452.40,81.60 C454.27,79.26 456.13,77.04 458.00,75.05 C459.87,73.07 461.72,71.26 463.60,69.69 C465.48,68.13 467.42,66.80 469.30,65.65 C471.18,64.50 473.03,63.59 474.90,62.80 C476.77,62.02 477.98,61.48 480.50,60.96 C483.02,60.44 486.75,60.01 490.00,59.68 C493.25,59.35 496.37,59.19 500.00,58.98 C503.63,58.77 508.53,58.54 511.80,58.41 C515.07,58.27 516.63,58.20 519.60,58.14 C522.57,58.09 527.93,58.11 529.60,58.10" fill="none" stroke="#2a2a8e" stroke-width="1.2" stroke-linejoin="round"/><path d="M317.10,120.70 C317.88,123.05 320.22,131.27 321.80,134.80 C323.38,138.33 325.02,140.20 326.60,141.90 C328.18,143.60 329.48,144.22 331.30,145.00 C333.12,145.78 335.15,145.42 337.50,146.60 C339.85,147.78 342.78,150.13 345.40,152.10 C348.02,154.07 350.58,156.70 353.20,158.40 C355.82,160.10 358.75,161.27 361.10,162.30 C363.45,163.33 365.07,164.02 367.30,164.60 C369.53,165.18 371.93,165.78 374.50,165.80 C377.07,165.82 380.42,165.11 382.70,164.72 C384.98,164.33 386.38,164.09 388.20,163.48 C390.02,162.87 391.78,162.11 393.60,161.06 C395.42,160.01 397.28,158.70 399.10,157.16 C400.92,155.62 402.68,153.87 404.50,151.84 C406.32,149.81 407.83,148.14 410.00,144.98 C412.17,141.82 415.28,136.15 417.50,132.90 C419.72,129.65 421.35,128.16 423.30,125.48 C425.25,122.80 427.25,119.83 429.20,116.80 C431.15,113.77 433.01,110.43 435.00,107.30 C436.99,104.17 439.15,100.88 441.12,98.02 C443.09,95.16 444.92,92.71 446.80,90.14 C448.68,87.57 450.53,84.96 452.40,82.60 C454.27,80.24 456.13,77.99 458.00,75.98 C459.87,73.97 461.72,72.12 463.60,70.52 C465.48,68.92 467.42,67.57 469.30,66.40 C471.18,65.23 473.03,64.29 474.90,63.48 C476.77,62.67 477.98,62.11 480.50,61.56 C483.02,61.01 486.75,60.54 490.00,60.16 C493.25,59.78 496.37,59.54 500.00,59.28 C503.63,59.02 508.53,58.76 511.80,58.58 C515.07,58.40 516.63,58.30 519.60,58.22 C522.57,58.14 527.93,58.12 529.60,58.10" fill="none" stroke="#2020ff" stroke-width="1.2" stroke-linejoin="round"/><path d="M316.80,29.50 V198.80 H529.70" fill="none" stroke="#333" stroke-width="1"/><path d="M313.80,29.50 H316.80" stroke="#333" stroke-width="0.9"/><text class="t" x="311.30" y="32.00" font-size="7" text-anchor="end" fill="#1e1e1e">3000</text><path d="M315.20,43.61 H316.80" stroke="#333" stroke-width="0.9"/><path d="M313.80,57.72 H316.80" stroke="#333" stroke-width="0.9"/><text class="t" x="311.30" y="60.40" font-size="7" text-anchor="end" fill="#1e1e1e">0</text><path d="M315.20,71.83 H316.80" stroke="#333" stroke-width="0.9"/><path d="M313.80,85.93 H316.80" stroke="#333" stroke-width="0.9"/><text class="t" x="310.60" y="91.30" font-size="7" text-anchor="end" fill="#1e1e1e">−3000</text><path d="M315.20,100.04 H316.80" stroke="#333" stroke-width="0.9"/><path d="M313.80,114.15 H316.80" stroke="#333" stroke-width="0.9"/><text class="t" x="312.20" y="117.50" font-size="7" text-anchor="end" fill="#1e1e1e">−6000</text><path d="M315.20,128.26 H316.80" stroke="#333" stroke-width="0.9"/><path d="M313.80,142.37 H316.80" stroke="#333" stroke-width="0.9"/><text class="t" x="312.20" y="145.80" font-size="7" text-anchor="end" fill="#1e1e1e">−9000</text><path d="M315.20,156.48 H316.80" stroke="#333" stroke-width="0.9"/><path d="M313.80,170.58 H316.80" stroke="#333" stroke-width="0.9"/><text class="t" x="312.40" y="171.40" font-size="7" text-anchor="end" fill="#1e1e1e">−12,000</text><path d="M315.20,184.69 H316.80" stroke="#333" stroke-width="0.9"/><path d="M313.80,198.80 H316.80" stroke="#333" stroke-width="0.9"/><text class="t" x="312.40" y="199.70" font-size="7" text-anchor="end" fill="#1e1e1e">−15,000</text><path d="M316.80,198.80 V202.00" stroke="#333" stroke-width="0.9"/><text class="t" x="317.20" y="210.40" font-size="7.2" text-anchor="middle" fill="#1e1e1e">200</text><path d="M321.06,198.80 V200.40" stroke="#333" stroke-width="0.9"/><path d="M325.32,198.80 V200.40" stroke="#333" stroke-width="0.9"/><path d="M329.57,198.80 V200.40" stroke="#333" stroke-width="0.9"/><path d="M333.83,198.80 V200.40" stroke="#333" stroke-width="0.9"/><path d="M338.09,198.80 V202.00" stroke="#333" stroke-width="0.9"/><text class="t" x="338.49" y="210.40" font-size="7.2" text-anchor="middle" fill="#1e1e1e">205</text><path d="M342.35,198.80 V200.40" stroke="#333" stroke-width="0.9"/><path d="M346.61,198.80 V200.40" stroke="#333" stroke-width="0.9"/><path d="M350.86,198.80 V200.40" stroke="#333" stroke-width="0.9"/><path d="M355.12,198.80 V200.40" stroke="#333" stroke-width="0.9"/><path d="M359.38,198.80 V202.00" stroke="#333" stroke-width="0.9"/><text class="t" x="359.78" y="210.40" font-size="7.2" text-anchor="middle" fill="#1e1e1e">210</text><path d="M363.64,198.80 V200.40" stroke="#333" stroke-width="0.9"/><path d="M367.90,198.80 V200.40" stroke="#333" stroke-width="0.9"/><path d="M372.15,198.80 V200.40" stroke="#333" stroke-width="0.9"/><path d="M376.41,198.80 V200.40" stroke="#333" stroke-width="0.9"/><path d="M380.67,198.80 V202.00" stroke="#333" stroke-width="0.9"/><text class="t" x="381.07" y="210.40" font-size="7.2" text-anchor="middle" fill="#1e1e1e">215</text><path d="M384.93,198.80 V200.40" stroke="#333" stroke-width="0.9"/><path d="M389.19,198.80 V200.40" stroke="#333" stroke-width="0.9"/><path d="M393.44,198.80 V200.40" stroke="#333" stroke-width="0.9"/><path d="M397.70,198.80 V200.40" stroke="#333" stroke-width="0.9"/><path d="M401.96,198.80 V202.00" stroke="#333" stroke-width="0.9"/><text class="t" x="402.36" y="210.40" font-size="7.2" text-anchor="middle" fill="#1e1e1e">220</text><path d="M406.22,198.80 V200.40" stroke="#333" stroke-width="0.9"/><path d="M410.48,198.80 V200.40" stroke="#333" stroke-width="0.9"/><path d="M414.73,198.80 V200.40" stroke="#333" stroke-width="0.9"/><path d="M418.99,198.80 V200.40" stroke="#333" stroke-width="0.9"/><path d="M423.25,198.80 V202.00" stroke="#333" stroke-width="0.9"/><text class="t" x="423.65" y="210.40" font-size="7.2" text-anchor="middle" fill="#1e1e1e">225</text><path d="M427.51,198.80 V200.40" stroke="#333" stroke-width="0.9"/><path d="M431.77,198.80 V200.40" stroke="#333" stroke-width="0.9"/><path d="M436.02,198.80 V200.40" stroke="#333" stroke-width="0.9"/><path d="M440.28,198.80 V200.40" stroke="#333" stroke-width="0.9"/><path d="M444.54,198.80 V202.00" stroke="#333" stroke-width="0.9"/><text class="t" x="444.94" y="210.40" font-size="7.2" text-anchor="middle" fill="#1e1e1e">230</text><path d="M448.80,198.80 V200.40" stroke="#333" stroke-width="0.9"/><path d="M453.06,198.80 V200.40" stroke="#333" stroke-width="0.9"/><path d="M457.31,198.80 V200.40" stroke="#333" stroke-width="0.9"/><path d="M461.57,198.80 V200.40" stroke="#333" stroke-width="0.9"/><path d="M465.83,198.80 V202.00" stroke="#333" stroke-width="0.9"/><text class="t" x="466.23" y="210.40" font-size="7.2" text-anchor="middle" fill="#1e1e1e">235</text><path d="M470.09,198.80 V200.40" stroke="#333" stroke-width="0.9"/><path d="M474.35,198.80 V200.40" stroke="#333" stroke-width="0.9"/><path d="M478.60,198.80 V200.40" stroke="#333" stroke-width="0.9"/><path d="M482.86,198.80 V200.40" stroke="#333" stroke-width="0.9"/><path d="M487.12,198.80 V202.00" stroke="#333" stroke-width="0.9"/><text class="t" x="487.52" y="210.40" font-size="7.2" text-anchor="middle" fill="#1e1e1e">240</text><path d="M491.38,198.80 V200.40" stroke="#333" stroke-width="0.9"/><path d="M495.64,198.80 V200.40" stroke="#333" stroke-width="0.9"/><path d="M499.89,198.80 V200.40" stroke="#333" stroke-width="0.9"/><path d="M504.15,198.80 V200.40" stroke="#333" stroke-width="0.9"/><path d="M508.41,198.80 V202.00" stroke="#333" stroke-width="0.9"/><text class="t" x="508.81" y="210.40" font-size="7.2" text-anchor="middle" fill="#1e1e1e">245</text><path d="M512.67,198.80 V200.40" stroke="#333" stroke-width="0.9"/><path d="M516.93,198.80 V200.40" stroke="#333" stroke-width="0.9"/><path d="M521.18,198.80 V200.40" stroke="#333" stroke-width="0.9"/><path d="M525.44,198.80 V200.40" stroke="#333" stroke-width="0.9"/><path d="M529.70,198.80 V202.00" stroke="#333" stroke-width="0.9"/><text class="t" x="530.10" y="210.40" font-size="7.2" text-anchor="middle" fill="#1e1e1e">250</text><text class="t" x="424.00" y="223.60" font-size="8.9" text-anchor="middle" fill="#1e1e1e">Wavelength (nm)</text><text class="t" transform="translate(283.55,121.70) rotate(-90)" font-size="8.52" text-anchor="middle" fill="#1e1e1e">MRE (deg cm<tspan font-size="5.11" dy="-3.24">2</tspan><tspan dy="3.24"> mol</tspan><tspan font-size="5.11" dy="-3.24">−1</tspan><tspan dy="3.24">)</tspan></text><text class="tb" x="429.10" y="32.50" font-size="10.4" font-weight="bold" text-anchor="middle" fill="#111">Mut9, pH 6.8</text><text class="tl" transform="translate(292.50,12.90) scale(0.860,1)" font-size="11.50" font-weight="bold" fill="#111">B</text><path d="M444.60,101.40 H464.60" stroke="#1a1a1a" stroke-width="1.25"/><text class="t" x="467.40" y="104.55" font-size="8.85" fill="#1e1e1e">Mut9 25°C</text><path d="M444.60,112.20 H464.60" stroke="#ee1c1c" stroke-width="1.25"/><text class="t" x="467.40" y="115.35" font-size="8.85" fill="#1e1e1e">Mut9 35°C</text><path d="M444.60,123.00 H464.60" stroke="#2020ff" stroke-width="1.25"/><text class="t" x="467.40" y="126.15" font-size="8.85" fill="#1e1e1e">Mut9 45°C</text><path d="M444.60,133.80 H464.60" stroke="#ff20ff" stroke-width="1.25"/><text class="t" x="467.40" y="136.95" font-size="8.85" fill="#1e1e1e">Mut9 55°C</text><path d="M444.60,144.60 H464.60" stroke="#119911" stroke-width="1.25"/><text class="t" x="467.40" y="147.75" font-size="8.85" fill="#1e1e1e">Mut9 65°C</text><path d="M444.60,155.40 H464.60" stroke="#2a2a8e" stroke-width="1.25"/><text class="t" x="467.40" y="158.55" font-size="8.85" fill="#1e1e1e">Mut9 75°C</text><path d="M444.60,166.20 H464.60" stroke="#9a2a9a" stroke-width="1.25"/><text class="t" x="467.40" y="169.35" font-size="8.85" fill="#1e1e1e">Mut9 85°C</text><path d="M444.60,177.00 H464.60" stroke="#8a1a1a" stroke-width="1.25"/><text class="t" x="467.40" y="180.15" font-size="8.85" fill="#1e1e1e">Mut9 95°C</text><path d="M444.60,187.80 H464.60" stroke="#222222" stroke-width="1.1" stroke-dasharray="4.5,3.3"/><text class="t" x="467.40" y="190.95" font-size="8.85" fill="#1e1e1e">Mut9 back to 25°C</text></g>
<g><path d="M50.70,390.80 C52.18,389.58 56.90,385.57 59.60,383.50 C62.30,381.43 64.47,380.10 66.90,378.40 C69.33,376.70 71.77,375.00 74.20,373.30 C76.63,371.60 79.08,370.02 81.50,368.20 C83.92,366.38 86.45,364.38 88.70,362.40 C90.95,360.42 92.83,358.23 95.00,356.30 C97.17,354.37 99.45,352.50 101.70,350.80 C103.95,349.10 106.25,347.67 108.50,346.10 C110.75,344.53 112.97,342.75 115.20,341.40 C117.43,340.05 119.67,338.93 121.90,338.00 C124.13,337.07 126.50,336.60 128.60,335.80 C130.70,335.00 132.77,334.02 134.50,333.20 C136.23,332.38 137.50,331.65 139.00,330.90 C140.50,330.15 142.00,329.45 143.50,328.70 C145.00,327.95 146.50,327.17 148.00,326.40 C149.50,325.63 151.00,324.95 152.50,324.10 C154.00,323.25 155.58,322.35 157.00,321.30 C158.42,320.25 159.67,318.70 161.00,317.80 C162.33,316.90 163.40,316.73 165.00,315.90 C166.60,315.07 168.73,313.93 170.60,312.80 C172.47,311.67 174.33,310.37 176.20,309.10 C178.07,307.83 179.93,306.40 181.80,305.20 C183.67,304.00 185.53,303.00 187.40,301.90 C189.27,300.80 191.13,299.62 193.00,298.60 C194.87,297.58 196.73,296.73 198.60,295.80 C200.47,294.87 202.33,293.87 204.20,293.00 C206.07,292.13 208.00,291.37 209.80,290.60 C211.60,289.83 213.00,289.37 215.00,288.40 C217.00,287.43 219.22,286.02 221.80,284.80 C224.38,283.58 227.62,282.23 230.50,281.10 C233.38,279.97 236.23,279.02 239.10,278.00 C241.97,276.98 244.10,275.95 247.70,275.00 C251.30,274.05 258.53,272.75 260.70,272.30" fill="none" stroke="#444444" stroke-width="1.2" stroke-linejoin="round"/><path d="M50.70,402.30 C52.18,400.85 56.90,396.25 59.60,393.60 C62.30,390.95 64.47,388.82 66.90,386.40 C69.33,383.98 71.77,381.53 74.20,379.10 C76.63,376.67 79.08,374.23 81.50,371.80 C83.92,369.37 86.45,366.83 88.70,364.50 C90.95,362.17 92.83,360.05 95.00,357.80 C97.17,355.55 99.45,353.05 101.70,351.00 C103.95,348.95 106.25,347.20 108.50,345.50 C110.75,343.80 112.97,342.15 115.20,340.80 C117.43,339.45 119.67,338.33 121.90,337.40 C124.13,336.47 126.50,336.00 128.60,335.20 C130.70,334.40 132.77,333.42 134.50,332.60 C136.23,331.78 137.50,331.05 139.00,330.30 C140.50,329.55 142.00,328.85 143.50,328.10 C145.00,327.35 146.50,326.55 148.00,325.80 C149.50,325.05 151.00,324.42 152.50,323.60 C154.00,322.78 155.58,321.95 157.00,320.90 C158.42,319.85 159.67,318.23 161.00,317.30 C162.33,316.37 163.40,316.17 165.00,315.30 C166.60,314.43 168.73,313.25 170.60,312.10 C172.47,310.95 174.33,309.67 176.20,308.40 C178.07,307.13 179.93,305.70 181.80,304.50 C183.67,303.30 185.53,302.32 187.40,301.20 C189.27,300.08 191.13,298.83 193.00,297.80 C194.87,296.77 196.73,295.93 198.60,295.00 C200.47,294.07 202.33,293.05 204.20,292.20 C206.07,291.35 208.00,290.65 209.80,289.90 C211.60,289.15 213.00,288.67 215.00,287.70 C217.00,286.73 219.22,285.28 221.80,284.10 C224.38,282.92 227.62,281.68 230.50,280.60 C233.38,279.52 236.23,278.57 239.10,277.60 C241.97,276.63 244.10,275.68 247.70,274.80 C251.30,273.92 258.53,272.72 260.70,272.30" fill="none" stroke="#9a2a9a" stroke-width="1.2" stroke-linejoin="round"/><path d="M50.90,371.50 C52.83,371.60 59.35,372.10 62.50,372.10 C65.65,372.10 67.37,371.83 69.80,371.50 C72.23,371.17 74.67,370.65 77.10,370.10 C79.53,369.55 81.98,368.83 84.40,368.20 C86.82,367.57 89.83,366.83 91.60,366.30 C93.37,365.77 93.32,365.67 95.00,365.00 C96.68,364.33 99.45,363.42 101.70,362.30 C103.95,361.18 106.25,359.65 108.50,358.30 C110.75,356.95 112.97,355.75 115.20,354.20 C117.43,352.65 119.43,350.73 121.90,349.00 C124.37,347.27 127.90,345.27 130.00,343.80 C132.10,342.33 133.00,341.40 134.50,340.20 C136.00,339.00 137.50,337.87 139.00,336.60 C140.50,335.33 142.00,333.95 143.50,332.60 C145.00,331.25 146.50,329.85 148.00,328.50 C149.50,327.15 151.00,325.77 152.50,324.50 C154.00,323.23 155.58,322.15 157.00,320.90 C158.42,319.65 159.30,318.60 161.00,317.00 C162.70,315.40 164.67,313.73 167.20,311.30 C169.73,308.87 173.77,304.82 176.20,302.40 C178.63,299.98 179.93,298.48 181.80,296.80 C183.67,295.12 185.53,293.72 187.40,292.30 C189.27,290.88 191.13,289.43 193.00,288.30 C194.87,287.17 196.73,286.33 198.60,285.50 C200.47,284.67 202.33,284.00 204.20,283.30 C206.07,282.60 208.00,281.87 209.80,281.30 C211.60,280.73 213.00,280.53 215.00,279.90 C217.00,279.27 219.22,278.23 221.80,277.50 C224.38,276.77 227.62,276.08 230.50,275.50 C233.38,274.92 236.23,274.42 239.10,274.00 C241.97,273.58 244.10,273.28 247.70,273.00 C251.30,272.72 258.53,272.42 260.70,272.30" fill="none" stroke="#2a2a8e" stroke-width="1.2" stroke-linejoin="round"/><path d="M50.50,327.50 C51.58,328.93 54.80,333.18 57.00,336.10 C59.20,339.02 61.47,342.02 63.70,345.00 C65.93,347.98 68.17,351.50 70.40,354.00 C72.63,356.50 74.77,358.00 77.10,360.00 C79.43,362.00 81.98,363.92 84.40,366.00 C86.82,368.08 89.83,371.10 91.60,372.50 C93.37,373.90 93.32,373.52 95.00,374.40 C96.68,375.28 99.45,377.02 101.70,377.80 C103.95,378.58 106.25,379.00 108.50,379.10 C110.75,379.20 112.97,378.97 115.20,378.40 C117.43,377.83 119.67,377.05 121.90,375.70 C124.13,374.35 126.58,372.75 128.60,370.30 C130.62,367.85 132.27,363.97 134.00,361.00 C135.73,358.03 137.42,355.13 139.00,352.50 C140.58,349.87 142.00,347.70 143.50,345.20 C145.00,342.70 146.50,340.05 148.00,337.50 C149.50,334.95 151.00,332.37 152.50,329.90 C154.00,327.43 155.58,324.93 157.00,322.70 C158.42,320.47 159.30,318.77 161.00,316.50 C162.70,314.23 165.23,312.20 167.20,309.10 C169.17,306.00 170.92,301.45 172.80,297.90 C174.68,294.35 176.62,290.70 178.50,287.80 C180.38,284.90 182.23,282.55 184.10,280.50 C185.97,278.45 187.83,276.82 189.70,275.50 C191.57,274.18 193.43,273.27 195.30,272.60 C197.17,271.93 198.48,271.77 200.90,271.50 C203.32,271.23 207.45,271.08 209.80,271.00 C212.15,270.92 213.00,270.87 215.00,271.00 C217.00,271.13 219.22,271.65 221.80,271.80 C224.38,271.95 227.62,271.93 230.50,271.90 C233.38,271.87 236.23,271.62 239.10,271.60 C241.97,271.58 244.10,271.68 247.70,271.80 C251.30,271.92 258.53,272.22 260.70,272.30" fill="none" stroke="#119911" stroke-width="1.2" stroke-linejoin="round"/><path d="M52.50,328.20 C53.25,329.25 55.50,332.25 57.00,334.50 C58.50,336.75 60.00,339.45 61.50,341.70 C63.00,343.95 64.52,345.95 66.00,348.00 C67.48,350.05 68.92,351.88 70.40,354.00 C71.88,356.12 73.47,358.95 74.90,360.70 C76.33,362.45 77.42,363.00 79.00,364.50 C80.58,366.00 82.30,367.45 84.40,369.70 C86.50,371.95 89.18,375.87 91.60,378.00 C94.02,380.13 96.83,381.53 98.90,382.50 C100.97,383.47 102.40,383.53 104.00,383.80 C105.60,384.07 107.08,384.10 108.50,384.10 C109.92,384.10 111.08,384.03 112.50,383.80 C113.92,383.57 115.43,383.33 117.00,382.70 C118.57,382.07 119.97,381.35 121.90,380.00 C123.83,378.65 126.75,376.68 128.60,374.60 C130.45,372.52 131.42,370.02 133.00,367.50 C134.58,364.98 136.35,362.33 138.10,359.50 C139.85,356.67 141.85,353.33 143.50,350.50 C145.15,347.67 146.50,345.18 148.00,342.50 C149.50,339.82 151.00,337.18 152.50,334.40 C154.00,331.62 155.58,328.65 157.00,325.80 C158.42,322.95 159.67,320.08 161.00,317.30 C162.33,314.52 163.40,312.33 165.00,309.10 C166.60,305.87 168.73,301.53 170.60,297.90 C172.47,294.27 174.33,290.27 176.20,287.30 C178.07,284.33 179.93,282.28 181.80,280.10 C183.67,277.92 185.53,275.75 187.40,274.20 C189.27,272.65 191.13,271.73 193.00,270.80 C194.87,269.87 196.73,269.12 198.60,268.60 C200.47,268.08 202.33,267.97 204.20,267.70 C206.07,267.43 208.00,267.07 209.80,267.00 C211.60,266.93 213.13,267.22 215.00,267.30 C216.87,267.38 219.00,267.35 221.00,267.50 C223.00,267.65 224.57,267.95 227.00,268.20 C229.43,268.45 232.72,268.72 235.60,269.00 C238.48,269.28 241.42,269.60 244.30,269.90 C247.18,270.20 250.17,270.40 252.90,270.80 C255.63,271.20 259.40,272.05 260.70,272.30" fill="none" stroke="#222222" stroke-width="1.1" stroke-dasharray="4.2,3.2" stroke-linejoin="round"/><path d="M50.50,308.50 C51.25,310.27 53.47,315.55 55.00,319.10 C56.53,322.65 58.08,326.43 59.70,329.80 C61.32,333.17 63.12,336.23 64.70,339.30 C66.28,342.37 67.52,345.05 69.20,348.20 C70.88,351.35 72.93,355.40 74.80,358.20 C76.67,361.00 78.80,362.98 80.40,365.00 C82.00,367.02 82.53,368.03 84.40,370.30 C86.27,372.57 89.18,376.47 91.60,378.60 C94.02,380.73 96.83,382.13 98.90,383.10 C100.97,384.07 102.40,384.13 104.00,384.40 C105.60,384.67 107.08,384.70 108.50,384.70 C109.92,384.70 111.08,384.63 112.50,384.40 C113.92,384.17 115.43,383.93 117.00,383.30 C118.57,382.67 119.97,381.95 121.90,380.60 C123.83,379.25 126.75,377.25 128.60,375.20 C130.45,373.15 131.42,370.78 133.00,368.30 C134.58,365.82 136.35,363.13 138.10,360.30 C139.85,357.47 141.85,354.13 143.50,351.30 C145.15,348.47 146.50,345.98 148.00,343.30 C149.50,340.62 151.00,337.98 152.50,335.20 C154.00,332.42 155.58,329.45 157.00,326.60 C158.42,323.75 159.67,320.88 161.00,318.10 C162.33,315.32 163.40,313.13 165.00,309.90 C166.60,306.67 168.73,302.33 170.60,298.70 C172.47,295.07 174.33,291.07 176.20,288.10 C178.07,285.13 179.93,283.03 181.80,280.90 C183.67,278.77 185.53,276.80 187.40,275.30 C189.27,273.80 191.13,272.83 193.00,271.90 C194.87,270.97 196.73,270.22 198.60,269.70 C200.47,269.18 202.33,269.07 204.20,268.80 C206.07,268.53 208.00,268.17 209.80,268.10 C211.60,268.03 213.13,268.32 215.00,268.40 C216.87,268.48 219.00,268.45 221.00,268.60 C223.00,268.75 224.57,269.05 227.00,269.30 C229.43,269.55 232.72,269.82 235.60,270.10 C238.48,270.38 241.42,270.70 244.30,271.00 C247.18,271.30 250.17,271.68 252.90,271.90 C255.63,272.12 259.40,272.23 260.70,272.30" fill="none" stroke="#ee1c1c" stroke-width="1.2" stroke-linejoin="round"/><path d="M50.50,308.20 C51.25,309.97 53.47,315.25 55.00,318.80 C56.53,322.35 58.08,326.13 59.70,329.50 C61.32,332.87 63.12,335.93 64.70,339.00 C66.28,342.07 67.52,344.77 69.20,347.90 C70.88,351.03 72.93,355.03 74.80,357.80 C76.67,360.57 78.80,362.55 80.40,364.50 C82.00,366.45 82.53,367.28 84.40,369.50 C86.27,371.72 89.18,375.67 91.60,377.80 C94.02,379.93 96.83,381.33 98.90,382.30 C100.97,383.27 102.40,383.33 104.00,383.60 C105.60,383.87 107.08,383.90 108.50,383.90 C109.92,383.90 111.08,383.83 112.50,383.60 C113.92,383.37 115.43,383.13 117.00,382.50 C118.57,381.87 119.97,381.15 121.90,379.80 C123.83,378.45 126.75,376.45 128.60,374.40 C130.45,372.35 131.42,369.98 133.00,367.50 C134.58,365.02 136.35,362.33 138.10,359.50 C139.85,356.67 141.85,353.33 143.50,350.50 C145.15,347.67 146.50,345.18 148.00,342.50 C149.50,339.82 151.00,337.18 152.50,334.40 C154.00,331.62 155.58,328.65 157.00,325.80 C158.42,322.95 159.67,320.08 161.00,317.30 C162.33,314.52 163.40,312.33 165.00,309.10 C166.60,305.87 168.73,301.53 170.60,297.90 C172.47,294.27 174.33,290.27 176.20,287.30 C178.07,284.33 179.93,282.23 181.80,280.10 C183.67,277.97 185.53,276.00 187.40,274.50 C189.27,273.00 191.13,272.03 193.00,271.10 C194.87,270.17 196.73,269.42 198.60,268.90 C200.47,268.38 202.33,268.27 204.20,268.00 C206.07,267.73 208.00,267.37 209.80,267.30 C211.60,267.23 213.13,267.52 215.00,267.60 C216.87,267.68 219.00,267.65 221.00,267.80 C223.00,267.95 224.57,268.25 227.00,268.50 C229.43,268.75 232.72,269.02 235.60,269.30 C238.48,269.58 241.42,269.90 244.30,270.20 C247.18,270.50 250.17,270.75 252.90,271.10 C255.63,271.45 259.40,272.10 260.70,272.30" fill="none" stroke="#8a1a1a" stroke-width="1.2" stroke-linejoin="round"/><path d="M50.50,316.30 C51.58,318.10 54.80,323.43 57.00,327.10 C59.20,330.77 61.47,334.57 63.70,338.30 C65.93,342.03 68.17,345.77 70.40,349.50 C72.63,353.23 74.77,357.60 77.10,360.70 C79.43,363.80 81.98,365.48 84.40,368.10 C86.82,370.72 89.18,374.27 91.60,376.40 C94.02,378.53 96.83,379.93 98.90,380.90 C100.97,381.87 102.40,381.93 104.00,382.20 C105.60,382.47 107.08,382.50 108.50,382.50 C109.92,382.50 111.08,382.43 112.50,382.20 C113.92,381.97 115.43,381.73 117.00,381.10 C118.57,380.47 119.97,379.75 121.90,378.40 C123.83,377.05 126.80,374.82 128.60,373.00 C130.40,371.18 131.17,369.75 132.70,367.50 C134.23,365.25 136.05,362.33 137.80,359.50 C139.55,356.67 141.55,353.33 143.20,350.50 C144.85,347.67 146.20,345.18 147.70,342.50 C149.20,339.82 150.70,337.18 152.20,334.40 C153.70,331.62 155.28,328.65 156.70,325.80 C158.12,322.95 159.37,320.08 160.70,317.30 C162.03,314.52 163.10,312.33 164.70,309.10 C166.30,305.87 168.43,301.53 170.30,297.90 C172.17,294.27 174.03,290.27 175.90,287.30 C177.77,284.33 179.58,282.03 181.50,280.10 C183.42,278.17 185.48,277.00 187.40,275.70 C189.32,274.40 191.13,273.23 193.00,272.30 C194.87,271.37 196.73,270.62 198.60,270.10 C200.47,269.58 202.33,269.47 204.20,269.20 C206.07,268.93 208.00,268.57 209.80,268.50 C211.60,268.43 213.13,268.72 215.00,268.80 C216.87,268.88 219.00,268.85 221.00,269.00 C223.00,269.15 224.57,269.45 227.00,269.70 C229.43,269.95 232.72,270.22 235.60,270.50 C238.48,270.78 241.42,271.10 244.30,271.40 C247.18,271.70 250.17,272.15 252.90,272.30 C255.63,272.45 259.40,272.30 260.70,272.30" fill="none" stroke="#2020ff" stroke-width="1.2" stroke-linejoin="round"/><path d="M50.50,318.50 C51.58,320.17 54.80,325.03 57.00,328.50 C59.20,331.97 61.47,335.68 63.70,339.30 C65.93,342.92 68.17,346.58 70.40,350.20 C72.63,353.82 74.77,357.92 77.10,361.00 C79.43,364.08 81.98,366.03 84.40,368.70 C86.82,371.37 89.18,374.87 91.60,377.00 C94.02,379.13 96.83,380.53 98.90,381.50 C100.97,382.47 102.40,382.53 104.00,382.80 C105.60,383.07 107.08,383.10 108.50,383.10 C109.92,383.10 111.08,383.03 112.50,382.80 C113.92,382.57 115.43,382.33 117.00,381.70 C118.57,381.07 119.97,380.35 121.90,379.00 C123.83,377.65 126.72,375.52 128.60,373.60 C130.48,371.68 131.58,369.85 133.20,367.50 C134.82,365.15 136.55,362.33 138.30,359.50 C140.05,356.67 142.05,353.33 143.70,350.50 C145.35,347.67 146.70,345.18 148.20,342.50 C149.70,339.82 151.20,337.18 152.70,334.40 C154.20,331.62 155.78,328.65 157.20,325.80 C158.62,322.95 159.87,320.08 161.20,317.30 C162.53,314.52 163.60,312.33 165.20,309.10 C166.80,305.87 168.93,301.53 170.80,297.90 C172.67,294.27 174.53,290.27 176.40,287.30 C178.27,284.33 180.17,281.97 182.00,280.10 C183.83,278.23 185.57,277.33 187.40,276.10 C189.23,274.87 191.13,273.63 193.00,272.70 C194.87,271.77 196.73,271.02 198.60,270.50 C200.47,269.98 202.33,269.87 204.20,269.60 C206.07,269.33 208.00,268.97 209.80,268.90 C211.60,268.83 213.13,269.12 215.00,269.20 C216.87,269.28 219.00,269.25 221.00,269.40 C223.00,269.55 224.57,269.85 227.00,270.10 C229.43,270.35 232.72,270.62 235.60,270.90 C238.48,271.18 241.42,271.50 244.30,271.80 C247.18,272.10 250.17,272.62 252.90,272.70 C255.63,272.78 259.40,272.37 260.70,272.30" fill="none" stroke="#ff20ff" stroke-width="1.2" stroke-linejoin="round"/><path d="M50.50,244.90 V414.80 H261.40" fill="none" stroke="#333" stroke-width="1"/><path d="M47.50,244.90 H50.50" stroke="#333" stroke-width="0.9"/><text class="t" x="44.90" y="247.10" font-size="7" text-anchor="end" fill="#1e1e1e">3000</text><path d="M48.90,259.06 H50.50" stroke="#333" stroke-width="0.9"/><path d="M47.50,273.22 H50.50" stroke="#333" stroke-width="0.9"/><text class="t" x="44.90" y="275.40" font-size="7" text-anchor="end" fill="#1e1e1e">0</text><path d="M48.90,287.38 H50.50" stroke="#333" stroke-width="0.9"/><path d="M47.50,301.53 H50.50" stroke="#333" stroke-width="0.9"/><text class="t" x="44.90" y="303.50" font-size="7" text-anchor="end" fill="#1e1e1e">−3000</text><path d="M48.90,315.69 H50.50" stroke="#333" stroke-width="0.9"/><path d="M47.50,329.85 H50.50" stroke="#333" stroke-width="0.9"/><text class="t" x="44.70" y="328.50" font-size="7" text-anchor="end" fill="#1e1e1e">−6000</text><path d="M48.90,344.01 H50.50" stroke="#333" stroke-width="0.9"/><path d="M47.50,358.17 H50.50" stroke="#333" stroke-width="0.9"/><text class="t" x="44.70" y="360.90" font-size="7" text-anchor="end" fill="#1e1e1e">−9000</text><path d="M48.90,372.33 H50.50" stroke="#333" stroke-width="0.9"/><path d="M47.50,386.48 H50.50" stroke="#333" stroke-width="0.9"/><text class="t" x="45.30" y="389.80" font-size="7" text-anchor="end" fill="#1e1e1e">−12,000</text><path d="M48.90,400.64 H50.50" stroke="#333" stroke-width="0.9"/><path d="M47.50,414.80 H50.50" stroke="#333" stroke-width="0.9"/><text class="t" x="45.60" y="415.10" font-size="7" text-anchor="end" fill="#1e1e1e">−15,000</text><path d="M50.50,414.80 V418.00" stroke="#333" stroke-width="0.9"/><text class="t" x="50.90" y="426.40" font-size="7.2" text-anchor="middle" fill="#1e1e1e">200</text><path d="M54.72,414.80 V416.40" stroke="#333" stroke-width="0.9"/><path d="M58.94,414.80 V416.40" stroke="#333" stroke-width="0.9"/><path d="M63.15,414.80 V416.40" stroke="#333" stroke-width="0.9"/><path d="M67.37,414.80 V416.40" stroke="#333" stroke-width="0.9"/><path d="M71.59,414.80 V418.00" stroke="#333" stroke-width="0.9"/><text class="t" x="71.99" y="426.40" font-size="7.2" text-anchor="middle" fill="#1e1e1e">205</text><path d="M75.81,414.80 V416.40" stroke="#333" stroke-width="0.9"/><path d="M80.03,414.80 V416.40" stroke="#333" stroke-width="0.9"/><path d="M84.24,414.80 V416.40" stroke="#333" stroke-width="0.9"/><path d="M88.46,414.80 V416.40" stroke="#333" stroke-width="0.9"/><path d="M92.68,414.80 V418.00" stroke="#333" stroke-width="0.9"/><text class="t" x="93.08" y="426.40" font-size="7.2" text-anchor="middle" fill="#1e1e1e">210</text><path d="M96.90,414.80 V416.40" stroke="#333" stroke-width="0.9"/><path d="M101.12,414.80 V416.40" stroke="#333" stroke-width="0.9"/><path d="M105.33,414.80 V416.40" stroke="#333" stroke-width="0.9"/><path d="M109.55,414.80 V416.40" stroke="#333" stroke-width="0.9"/><path d="M113.77,414.80 V418.00" stroke="#333" stroke-width="0.9"/><text class="t" x="114.17" y="426.40" font-size="7.2" text-anchor="middle" fill="#1e1e1e">215</text><path d="M117.99,414.80 V416.40" stroke="#333" stroke-width="0.9"/><path d="M122.21,414.80 V416.40" stroke="#333" stroke-width="0.9"/><path d="M126.42,414.80 V416.40" stroke="#333" stroke-width="0.9"/><path d="M130.64,414.80 V416.40" stroke="#333" stroke-width="0.9"/><path d="M134.86,414.80 V418.00" stroke="#333" stroke-width="0.9"/><text class="t" x="135.26" y="426.40" font-size="7.2" text-anchor="middle" fill="#1e1e1e">220</text><path d="M139.08,414.80 V416.40" stroke="#333" stroke-width="0.9"/><path d="M143.30,414.80 V416.40" stroke="#333" stroke-width="0.9"/><path d="M147.51,414.80 V416.40" stroke="#333" stroke-width="0.9"/><path d="M151.73,414.80 V416.40" stroke="#333" stroke-width="0.9"/><path d="M155.95,414.80 V418.00" stroke="#333" stroke-width="0.9"/><text class="t" x="156.35" y="426.40" font-size="7.2" text-anchor="middle" fill="#1e1e1e">225</text><path d="M160.17,414.80 V416.40" stroke="#333" stroke-width="0.9"/><path d="M164.39,414.80 V416.40" stroke="#333" stroke-width="0.9"/><path d="M168.60,414.80 V416.40" stroke="#333" stroke-width="0.9"/><path d="M172.82,414.80 V416.40" stroke="#333" stroke-width="0.9"/><path d="M177.04,414.80 V418.00" stroke="#333" stroke-width="0.9"/><text class="t" x="177.44" y="426.40" font-size="7.2" text-anchor="middle" fill="#1e1e1e">230</text><path d="M181.26,414.80 V416.40" stroke="#333" stroke-width="0.9"/><path d="M185.48,414.80 V416.40" stroke="#333" stroke-width="0.9"/><path d="M189.69,414.80 V416.40" stroke="#333" stroke-width="0.9"/><path d="M193.91,414.80 V416.40" stroke="#333" stroke-width="0.9"/><path d="M198.13,414.80 V418.00" stroke="#333" stroke-width="0.9"/><text class="t" x="198.53" y="426.40" font-size="7.2" text-anchor="middle" fill="#1e1e1e">235</text><path d="M202.35,414.80 V416.40" stroke="#333" stroke-width="0.9"/><path d="M206.57,414.80 V416.40" stroke="#333" stroke-width="0.9"/><path d="M210.78,414.80 V416.40" stroke="#333" stroke-width="0.9"/><path d="M215.00,414.80 V416.40" stroke="#333" stroke-width="0.9"/><path d="M219.22,414.80 V418.00" stroke="#333" stroke-width="0.9"/><text class="t" x="219.62" y="426.40" font-size="7.2" text-anchor="middle" fill="#1e1e1e">240</text><path d="M223.44,414.80 V416.40" stroke="#333" stroke-width="0.9"/><path d="M227.66,414.80 V416.40" stroke="#333" stroke-width="0.9"/><path d="M231.87,414.80 V416.40" stroke="#333" stroke-width="0.9"/><path d="M236.09,414.80 V416.40" stroke="#333" stroke-width="0.9"/><path d="M240.31,414.80 V418.00" stroke="#333" stroke-width="0.9"/><text class="t" x="240.71" y="426.40" font-size="7.2" text-anchor="middle" fill="#1e1e1e">245</text><path d="M244.53,414.80 V416.40" stroke="#333" stroke-width="0.9"/><path d="M248.75,414.80 V416.40" stroke="#333" stroke-width="0.9"/><path d="M252.96,414.80 V416.40" stroke="#333" stroke-width="0.9"/><path d="M257.18,414.80 V416.40" stroke="#333" stroke-width="0.9"/><path d="M261.40,414.80 V418.00" stroke="#333" stroke-width="0.9"/><text class="t" x="261.80" y="426.40" font-size="7.2" text-anchor="middle" fill="#1e1e1e">250</text><text class="t" x="155.90" y="440.00" font-size="8.85" text-anchor="middle" fill="#1e1e1e">Wavelength (nm)</text><text class="t" transform="translate(14.10,326.40) rotate(-90)" font-size="8.64" text-anchor="middle" fill="#1e1e1e">MRE (deg cm<tspan font-size="5.18" dy="-3.28">2</tspan><tspan dy="3.28"> mol</tspan><tspan font-size="5.18" dy="-3.28">−1</tspan><tspan dy="3.28">)</tspan></text><text class="tb" x="159.00" y="245.50" font-size="10.4" font-weight="bold" text-anchor="middle" fill="#111">MNEI, pH 2.5</text><text class="tl" transform="translate(23.20,229.60) scale(0.840,1)" font-size="12.60" font-weight="bold" fill="#111">C</text><path d="M173.00,323.00 H191.80" stroke="#8a1a1a" stroke-width="1.25"/><text class="t" x="194.10" y="326.15" font-size="8.42" fill="#1e1e1e">MNEI 25°C</text><path d="M173.00,333.22 H191.80" stroke="#ee1c1c" stroke-width="1.50"/><text class="t" x="194.10" y="336.37" font-size="8.42" fill="#1e1e1e">MNEI 35°C</text><path d="M173.00,343.44 H191.80" stroke="#2020ff" stroke-width="1.25"/><text class="t" x="194.10" y="346.59" font-size="8.42" fill="#1e1e1e">MNEI 45°C</text><path d="M173.00,353.66 H191.80" stroke="#ff20ff" stroke-width="1.25"/><text class="t" x="194.10" y="356.81" font-size="8.42" fill="#1e1e1e">MNEI 55°C</text><path d="M173.00,363.88 H191.80" stroke="#119911" stroke-width="1.25"/><text class="t" x="194.10" y="367.03" font-size="8.42" fill="#1e1e1e">MNEI 65°C</text><path d="M173.00,374.10 H191.80" stroke="#2a2a8e" stroke-width="1.70"/><text class="t" x="194.10" y="377.25" font-size="8.42" fill="#1e1e1e">MNEI 75°C</text><path d="M173.00,384.32 H191.80" stroke="#9a2a9a" stroke-width="1.25"/><text class="t" x="194.10" y="387.47" font-size="8.42" fill="#1e1e1e">MNEI 85°C</text><path d="M173.00,394.54 H191.80" stroke="#444444" stroke-width="1.25"/><text class="t" x="194.10" y="397.69" font-size="8.42" fill="#1e1e1e">MNEI 95°C</text><path d="M173.00,404.76 H191.80" stroke="#222222" stroke-width="1.1" stroke-dasharray="4.5,3.3"/><text class="t" x="194.10" y="407.91" font-size="8.42" fill="#1e1e1e">MNEI back to 25 °C</text></g>
<g><path d="M323.00,298.70 C323.52,299.50 324.92,301.92 326.10,303.50 C327.28,305.08 328.77,306.63 330.10,308.20 C331.43,309.77 332.75,311.63 334.10,312.90 C335.45,314.17 336.40,314.53 338.20,315.80 C340.00,317.07 343.22,319.33 344.90,320.50 C346.58,321.67 346.05,321.67 348.30,322.80 C350.55,323.93 355.38,326.17 358.40,327.30 C361.42,328.43 363.72,329.23 366.40,329.60 C369.08,329.97 371.93,329.65 374.50,329.50 C377.07,329.35 379.37,328.95 381.80,328.70 C384.23,328.45 386.67,328.37 389.10,328.00 C391.53,327.63 393.98,326.98 396.40,326.50 C398.82,326.02 401.18,325.58 403.60,325.10 C406.02,324.62 408.47,324.17 410.90,323.60 C413.33,323.03 415.85,322.47 418.20,321.70 C420.55,320.93 422.42,320.12 425.00,319.00 C427.58,317.88 430.78,316.58 433.70,315.00 C436.62,313.42 439.58,311.33 442.50,309.50 C445.42,307.67 448.30,305.75 451.20,304.00 C454.10,302.25 457.00,300.33 459.90,299.00 C462.80,297.67 465.33,297.42 468.60,296.00 C471.87,294.58 475.85,292.17 479.50,290.50 C483.15,288.83 486.85,287.33 490.50,286.00 C494.15,284.67 497.77,283.62 501.40,282.50 C505.03,281.38 508.67,280.18 512.30,279.30 C515.93,278.42 519.02,277.62 523.20,277.20 C527.38,276.78 535.03,276.87 537.40,276.80" fill="none" stroke="#444444" stroke-width="1.2" stroke-linejoin="round"/><path d="M321.80,306.10 C322.52,307.00 324.05,309.82 326.10,311.50 C328.15,313.18 330.97,314.52 334.10,316.20 C337.23,317.88 342.53,320.33 344.90,321.60 C347.27,322.87 346.05,322.68 348.30,323.80 C350.55,324.92 355.38,327.20 358.40,328.30 C361.42,329.40 363.72,330.20 366.40,330.40 C369.08,330.60 371.93,329.78 374.50,329.50 C377.07,329.22 379.37,328.95 381.80,328.70 C384.23,328.45 386.67,328.37 389.10,328.00 C391.53,327.63 393.98,327.00 396.40,326.50 C398.82,326.00 401.18,325.53 403.60,325.00 C406.02,324.47 408.47,323.92 410.90,323.30 C413.33,322.68 415.85,322.13 418.20,321.30 C420.55,320.47 422.42,319.53 425.00,318.30 C427.58,317.07 430.78,315.53 433.70,313.90 C436.62,312.27 439.58,310.32 442.50,308.50 C445.42,306.68 448.30,304.83 451.20,303.00 C454.10,301.17 457.00,299.03 459.90,297.50 C462.80,295.97 465.33,295.30 468.60,293.80 C471.87,292.30 475.85,290.05 479.50,288.50 C483.15,286.95 486.85,285.67 490.50,284.50 C494.15,283.33 497.77,282.47 501.40,281.50 C505.03,280.53 508.67,279.48 512.30,278.70 C515.93,277.92 519.02,277.12 523.20,276.80 C527.38,276.48 535.03,276.80 537.40,276.80" fill="none" stroke="#ff2080" stroke-width="1.2" stroke-linejoin="round"/><path d="M324.30,299.40 C325.50,301.20 328.97,306.95 331.50,310.20 C334.03,313.45 336.82,316.32 339.50,318.90 C342.18,321.48 344.48,323.25 347.60,325.70 C350.72,328.15 354.68,331.52 358.20,333.60 C361.72,335.68 365.48,337.60 368.70,338.20 C371.92,338.80 374.58,337.68 377.50,337.20 C380.42,336.72 383.30,336.10 386.20,335.30 C389.10,334.50 392.00,333.37 394.90,332.40 C397.80,331.43 400.68,330.60 403.60,329.50 C406.52,328.40 409.48,327.02 412.40,325.80 C415.32,324.58 417.55,324.00 421.10,322.20 C424.65,320.40 430.13,317.15 433.70,315.00 C437.27,312.85 439.58,311.17 442.50,309.30 C445.42,307.43 448.30,305.60 451.20,303.80 C454.10,302.00 457.00,299.97 459.90,298.50 C462.80,297.03 465.33,296.50 468.60,295.00 C471.87,293.50 475.85,291.17 479.50,289.50 C483.15,287.83 486.85,286.33 490.50,285.00 C494.15,283.67 497.77,282.57 501.40,281.50 C505.03,280.43 508.67,279.38 512.30,278.60 C515.93,277.82 519.02,277.10 523.20,276.80 C527.38,276.50 535.03,276.80 537.40,276.80" fill="none" stroke="#222222" stroke-width="1.05" stroke-dasharray="4.2,3.2" stroke-linejoin="round"/><path d="M321.80,298.50 C322.52,300.00 324.05,303.83 326.10,307.50 C328.15,311.17 330.97,315.92 334.10,320.50 C337.23,325.08 341.53,330.83 344.90,335.00 C348.27,339.17 351.78,342.95 354.30,345.50 C356.82,348.05 358.37,348.95 360.00,350.30 C361.63,351.65 362.68,352.48 364.10,353.60 C365.52,354.72 366.98,356.02 368.50,357.00 C370.02,357.98 371.62,358.83 373.20,359.50 C374.78,360.17 376.48,360.68 378.00,361.00 C379.52,361.32 380.80,361.48 382.30,361.40 C383.80,361.32 385.48,360.88 387.00,360.50 C388.52,360.12 389.90,359.65 391.40,359.10 C392.90,358.55 394.48,357.88 396.00,357.20 C397.52,356.52 399.00,355.82 400.50,355.00 C402.00,354.18 403.27,353.53 405.00,352.30 C406.73,351.07 409.38,348.82 410.90,347.60 C412.42,346.38 411.72,348.02 414.10,345.00 C416.48,341.98 421.08,335.17 425.20,329.50 C429.32,323.83 435.00,316.55 438.80,311.00 C442.60,305.45 444.48,300.37 448.00,296.20 C451.52,292.03 456.47,288.62 459.90,286.00 C463.33,283.38 465.68,282.03 468.60,280.50 C471.52,278.97 473.75,277.52 477.40,276.80 C481.05,276.08 486.13,276.38 490.50,276.20 C494.87,276.02 499.25,275.78 503.60,275.70 C507.95,275.62 510.97,275.52 516.60,275.70 C522.23,275.88 533.93,276.62 537.40,276.80" fill="none" stroke="#2a2a8e" stroke-width="1.2" stroke-linejoin="round"/><path d="M321.80,314.90 C322.52,315.90 324.05,318.55 326.10,320.90 C328.15,323.25 330.97,326.08 334.10,329.00 C337.23,331.92 341.53,335.48 344.90,338.40 C348.27,341.32 351.78,344.12 354.30,346.50 C356.82,348.88 357.83,350.57 360.00,352.70 C362.17,354.83 364.88,357.48 367.30,359.30 C369.72,361.12 372.08,362.43 374.50,363.60 C376.92,364.77 379.37,365.85 381.80,366.30 C384.23,366.75 386.67,366.62 389.10,366.30 C391.53,365.98 393.98,365.33 396.40,364.40 C398.82,363.47 401.18,362.28 403.60,360.70 C406.02,359.12 408.53,357.52 410.90,354.90 C413.27,352.28 415.03,349.23 417.80,345.00 C420.57,340.77 423.83,335.17 427.50,329.50 C431.17,323.83 436.17,316.55 439.80,311.00 C443.43,305.45 446.68,299.78 449.30,296.20 C451.92,292.62 453.37,291.87 455.50,289.50 C457.63,287.13 459.92,284.00 462.10,282.00 C464.28,280.00 466.05,278.92 468.60,277.50 C471.15,276.08 474.48,274.17 477.40,273.50 C480.32,272.83 483.20,273.37 486.10,273.50 C489.00,273.63 491.88,274.17 494.80,274.30 C497.72,274.43 500.68,274.27 503.60,274.30 C506.52,274.33 509.03,274.38 512.30,274.50 C515.57,274.62 519.02,274.62 523.20,275.00 C527.38,275.38 535.03,276.50 537.40,276.80" fill="none" stroke="#119911" stroke-width="1.2" stroke-linejoin="round"/><path d="M321.80,304.80 C322.52,306.00 324.05,308.88 326.10,312.00 C328.15,315.12 330.97,319.37 334.10,323.50 C337.23,327.63 341.53,332.97 344.90,336.80 C348.27,340.63 351.78,343.72 354.30,346.50 C356.82,349.28 357.83,351.25 360.00,353.50 C362.17,355.75 364.88,357.87 367.30,360.00 C369.72,362.13 372.08,365.00 374.50,366.30 C376.92,367.60 379.37,367.60 381.80,367.80 C384.23,368.00 386.67,367.87 389.10,367.50 C391.53,367.13 393.98,366.52 396.40,365.60 C398.82,364.68 401.18,363.43 403.60,362.00 C406.02,360.57 408.30,359.83 410.90,357.00 C413.50,354.17 416.18,349.58 419.20,345.00 C422.22,340.42 425.43,335.17 429.00,329.50 C432.57,323.83 437.10,316.55 440.60,311.00 C444.10,305.45 447.52,299.75 450.00,296.20 C452.48,292.65 453.48,292.15 455.50,289.70 C457.52,287.25 459.92,283.70 462.10,281.50 C464.28,279.30 466.05,278.05 468.60,276.50 C471.15,274.95 474.48,272.95 477.40,272.20 C480.32,271.45 483.20,271.92 486.10,272.00 C489.00,272.08 491.88,272.53 494.80,272.70 C497.72,272.87 500.68,272.90 503.60,273.00 C506.52,273.10 509.03,273.05 512.30,273.30 C515.57,273.55 519.02,273.92 523.20,274.50 C527.38,275.08 535.03,276.42 537.40,276.80" fill="none" stroke="#8a1a1a" stroke-width="1.2" stroke-linejoin="round"/><path d="M321.80,306.50 C322.52,307.58 324.05,310.08 326.10,313.00 C328.15,315.92 330.97,320.00 334.10,324.00 C337.23,328.00 341.53,333.25 344.90,337.00 C348.27,340.75 351.78,343.75 354.30,346.50 C356.82,349.25 357.83,351.22 360.00,353.50 C362.17,355.78 364.88,358.03 367.30,360.20 C369.72,362.37 372.08,365.20 374.50,366.50 C376.92,367.80 379.37,367.80 381.80,368.00 C384.23,368.20 386.67,368.07 389.10,367.70 C391.53,367.33 393.98,366.72 396.40,365.80 C398.82,364.88 401.18,363.65 403.60,362.20 C406.02,360.75 408.33,359.97 410.90,357.10 C413.47,354.23 416.00,349.60 419.00,345.00 C422.00,340.40 425.30,335.17 428.90,329.50 C432.50,323.83 437.08,316.55 440.60,311.00 C444.12,305.45 447.52,299.75 450.00,296.20 C452.48,292.65 453.48,292.15 455.50,289.70 C457.52,287.25 459.92,283.70 462.10,281.50 C464.28,279.30 466.05,278.05 468.60,276.50 C471.15,274.95 474.48,272.95 477.40,272.20 C480.32,271.45 483.20,271.92 486.10,272.00 C489.00,272.08 491.88,272.53 494.80,272.70 C497.72,272.87 500.68,272.90 503.60,273.00 C506.52,273.10 509.03,273.05 512.30,273.30 C515.57,273.55 519.02,273.92 523.20,274.50 C527.38,275.08 535.03,276.42 537.40,276.80" fill="none" stroke="#ee1c1c" stroke-width="1.2" stroke-linejoin="round"/><path d="M321.80,309.50 C322.52,310.42 324.05,312.42 326.10,315.00 C328.15,317.58 330.97,321.25 334.10,325.00 C337.23,328.75 341.53,333.58 344.90,337.50 C348.27,341.42 351.78,345.58 354.30,348.50 C356.82,351.42 358.37,353.33 360.00,355.00 C361.63,356.67 362.68,357.33 364.10,358.50 C365.52,359.67 366.98,360.88 368.50,362.00 C370.02,363.12 371.62,364.28 373.20,365.20 C374.78,366.12 376.48,366.97 378.00,367.50 C379.52,368.03 380.45,368.43 382.30,368.40 C384.15,368.37 386.75,367.87 389.10,367.30 C391.45,366.73 393.98,366.05 396.40,365.00 C398.82,363.95 401.18,362.67 403.60,361.00 C406.02,359.33 408.42,357.67 410.90,355.00 C413.38,352.33 415.62,349.25 418.50,345.00 C421.38,340.75 424.58,335.17 428.20,329.50 C431.82,323.83 436.63,316.55 440.20,311.00 C443.77,305.45 447.05,299.95 449.60,296.20 C452.15,292.45 453.42,291.03 455.50,288.50 C457.58,285.97 459.92,283.03 462.10,281.00 C464.28,278.97 466.05,277.80 468.60,276.30 C471.15,274.80 474.48,272.72 477.40,272.00 C480.32,271.28 483.20,271.88 486.10,272.00 C489.00,272.12 491.88,272.53 494.80,272.70 C497.72,272.87 500.68,272.87 503.60,273.00 C506.52,273.13 509.03,273.23 512.30,273.50 C515.57,273.77 519.02,274.05 523.20,274.60 C527.38,275.15 535.03,276.43 537.40,276.80" fill="none" stroke="#ff20ff" stroke-width="1.2" stroke-linejoin="round"/><path d="M321.80,298.30 C322.52,299.83 324.05,303.63 326.10,307.50 C328.15,311.37 331.75,317.52 334.10,321.50 C336.45,325.48 338.07,328.42 340.20,331.40 C342.33,334.38 344.65,336.72 346.90,339.40 C349.15,342.08 351.85,345.32 353.70,347.50 C355.55,349.68 356.27,350.42 358.00,352.50 C359.73,354.58 362.35,358.08 364.10,360.00 C365.85,361.92 366.98,362.72 368.50,364.00 C370.02,365.28 371.52,366.62 373.20,367.70 C374.88,368.78 376.43,370.20 378.60,370.50 C380.77,370.80 383.72,370.03 386.20,369.50 C388.68,368.97 391.08,368.28 393.50,367.30 C395.92,366.32 398.28,365.30 400.70,363.60 C403.12,361.90 405.45,360.20 408.00,357.10 C410.55,354.00 412.92,349.60 416.00,345.00 C419.08,340.40 422.62,335.17 426.50,329.50 C430.38,323.83 435.58,316.55 439.30,311.00 C443.02,305.45 446.10,300.02 448.80,296.20 C451.50,292.38 453.28,290.72 455.50,288.10 C457.72,285.48 459.92,282.53 462.10,280.50 C464.28,278.47 466.05,277.35 468.60,275.90 C471.15,274.45 474.48,272.48 477.40,271.80 C480.32,271.12 483.20,271.65 486.10,271.80 C489.00,271.95 491.88,272.50 494.80,272.70 C497.72,272.90 500.68,272.87 503.60,273.00 C506.52,273.13 509.03,273.23 512.30,273.50 C515.57,273.77 519.02,274.05 523.20,274.60 C527.38,275.15 535.03,276.43 537.40,276.80" fill="none" stroke="#2020ff" stroke-width="1.2" stroke-linejoin="round"/><path d="M321.40,247.40 V416.60 H538.80" fill="none" stroke="#333" stroke-width="1"/><path d="M318.40,247.40 H321.40" stroke="#333" stroke-width="0.9"/><text class="t" x="315.50" y="249.10" font-size="7" text-anchor="end" fill="#1e1e1e">3000</text><path d="M319.80,261.50 H321.40" stroke="#333" stroke-width="0.9"/><path d="M318.40,275.60 H321.40" stroke="#333" stroke-width="0.9"/><text class="t" x="315.50" y="277.40" font-size="7" text-anchor="end" fill="#1e1e1e">0</text><path d="M319.80,289.70 H321.40" stroke="#333" stroke-width="0.9"/><path d="M318.40,303.80 H321.40" stroke="#333" stroke-width="0.9"/><text class="t" x="315.50" y="306.30" font-size="7" text-anchor="end" fill="#1e1e1e">−3000</text><path d="M319.80,317.90 H321.40" stroke="#333" stroke-width="0.9"/><path d="M318.40,332.00 H321.40" stroke="#333" stroke-width="0.9"/><text class="t" x="316.60" y="334.00" font-size="7" text-anchor="end" fill="#1e1e1e">−6000</text><path d="M319.80,346.10 H321.40" stroke="#333" stroke-width="0.9"/><path d="M318.40,360.20 H321.40" stroke="#333" stroke-width="0.9"/><text class="t" x="316.60" y="366.30" font-size="7" text-anchor="end" fill="#1e1e1e">−9000</text><path d="M319.80,374.30 H321.40" stroke="#333" stroke-width="0.9"/><path d="M318.40,388.40 H321.40" stroke="#333" stroke-width="0.9"/><text class="t" x="315.90" y="391.50" font-size="7" text-anchor="end" fill="#1e1e1e">−12,000</text><path d="M319.80,402.50 H321.40" stroke="#333" stroke-width="0.9"/><path d="M318.40,416.60 H321.40" stroke="#333" stroke-width="0.9"/><text class="t" x="315.90" y="418.00" font-size="7" text-anchor="end" fill="#1e1e1e">−15,000</text><path d="M321.40,416.60 V419.80" stroke="#333" stroke-width="0.9"/><text class="t" x="321.80" y="428.20" font-size="7.2" text-anchor="middle" fill="#1e1e1e">200</text><path d="M325.75,416.60 V418.20" stroke="#333" stroke-width="0.9"/><path d="M330.10,416.60 V418.20" stroke="#333" stroke-width="0.9"/><path d="M334.44,416.60 V418.20" stroke="#333" stroke-width="0.9"/><path d="M338.79,416.60 V418.20" stroke="#333" stroke-width="0.9"/><path d="M343.14,416.60 V419.80" stroke="#333" stroke-width="0.9"/><text class="t" x="343.54" y="428.20" font-size="7.2" text-anchor="middle" fill="#1e1e1e">205</text><path d="M347.49,416.60 V418.20" stroke="#333" stroke-width="0.9"/><path d="M351.84,416.60 V418.20" stroke="#333" stroke-width="0.9"/><path d="M356.18,416.60 V418.20" stroke="#333" stroke-width="0.9"/><path d="M360.53,416.60 V418.20" stroke="#333" stroke-width="0.9"/><path d="M364.88,416.60 V419.80" stroke="#333" stroke-width="0.9"/><text class="t" x="365.28" y="428.20" font-size="7.2" text-anchor="middle" fill="#1e1e1e">210</text><path d="M369.23,416.60 V418.20" stroke="#333" stroke-width="0.9"/><path d="M373.58,416.60 V418.20" stroke="#333" stroke-width="0.9"/><path d="M377.92,416.60 V418.20" stroke="#333" stroke-width="0.9"/><path d="M382.27,416.60 V418.20" stroke="#333" stroke-width="0.9"/><path d="M386.62,416.60 V419.80" stroke="#333" stroke-width="0.9"/><text class="t" x="387.02" y="428.20" font-size="7.2" text-anchor="middle" fill="#1e1e1e">215</text><path d="M390.97,416.60 V418.20" stroke="#333" stroke-width="0.9"/><path d="M395.32,416.60 V418.20" stroke="#333" stroke-width="0.9"/><path d="M399.66,416.60 V418.20" stroke="#333" stroke-width="0.9"/><path d="M404.01,416.60 V418.20" stroke="#333" stroke-width="0.9"/><path d="M408.36,416.60 V419.80" stroke="#333" stroke-width="0.9"/><text class="t" x="408.76" y="428.20" font-size="7.2" text-anchor="middle" fill="#1e1e1e">220</text><path d="M412.71,416.60 V418.20" stroke="#333" stroke-width="0.9"/><path d="M417.06,416.60 V418.20" stroke="#333" stroke-width="0.9"/><path d="M421.40,416.60 V418.20" stroke="#333" stroke-width="0.9"/><path d="M425.75,416.60 V418.20" stroke="#333" stroke-width="0.9"/><path d="M430.10,416.60 V419.80" stroke="#333" stroke-width="0.9"/><text class="t" x="430.50" y="428.20" font-size="7.2" text-anchor="middle" fill="#1e1e1e">225</text><path d="M434.45,416.60 V418.20" stroke="#333" stroke-width="0.9"/><path d="M438.80,416.60 V418.20" stroke="#333" stroke-width="0.9"/><path d="M443.14,416.60 V418.20" stroke="#333" stroke-width="0.9"/><path d="M447.49,416.60 V418.20" stroke="#333" stroke-width="0.9"/><path d="M451.84,416.60 V419.80" stroke="#333" stroke-width="0.9"/><text class="t" x="452.24" y="428.20" font-size="7.2" text-anchor="middle" fill="#1e1e1e">230</text><path d="M456.19,416.60 V418.20" stroke="#333" stroke-width="0.9"/><path d="M460.54,416.60 V418.20" stroke="#333" stroke-width="0.9"/><path d="M464.88,416.60 V418.20" stroke="#333" stroke-width="0.9"/><path d="M469.23,416.60 V418.20" stroke="#333" stroke-width="0.9"/><path d="M473.58,416.60 V419.80" stroke="#333" stroke-width="0.9"/><text class="t" x="473.98" y="428.20" font-size="7.2" text-anchor="middle" fill="#1e1e1e">235</text><path d="M477.93,416.60 V418.20" stroke="#333" stroke-width="0.9"/><path d="M482.28,416.60 V418.20" stroke="#333" stroke-width="0.9"/><path d="M486.62,416.60 V418.20" stroke="#333" stroke-width="0.9"/><path d="M490.97,416.60 V418.20" stroke="#333" stroke-width="0.9"/><path d="M495.32,416.60 V419.80" stroke="#333" stroke-width="0.9"/><text class="t" x="495.72" y="428.20" font-size="7.2" text-anchor="middle" fill="#1e1e1e">240</text><path d="M499.67,416.60 V418.20" stroke="#333" stroke-width="0.9"/><path d="M504.02,416.60 V418.20" stroke="#333" stroke-width="0.9"/><path d="M508.36,416.60 V418.20" stroke="#333" stroke-width="0.9"/><path d="M512.71,416.60 V418.20" stroke="#333" stroke-width="0.9"/><path d="M517.06,416.60 V419.80" stroke="#333" stroke-width="0.9"/><text class="t" x="517.46" y="428.20" font-size="7.2" text-anchor="middle" fill="#1e1e1e">245</text><path d="M521.41,416.60 V418.20" stroke="#333" stroke-width="0.9"/><path d="M525.76,416.60 V418.20" stroke="#333" stroke-width="0.9"/><path d="M530.10,416.60 V418.20" stroke="#333" stroke-width="0.9"/><path d="M534.45,416.60 V418.20" stroke="#333" stroke-width="0.9"/><path d="M538.80,416.60 V419.80" stroke="#333" stroke-width="0.9"/><text class="t" x="539.20" y="428.20" font-size="7.2" text-anchor="middle" fill="#1e1e1e">250</text><text class="t" x="429.80" y="441.40" font-size="9.0" text-anchor="middle" fill="#1e1e1e">Wavelength (nm)</text><text class="t" transform="translate(282.50,327.15) rotate(-90)" font-size="8.57" text-anchor="middle" fill="#1e1e1e">MRE (deg cm<tspan font-size="5.14" dy="-3.26">2</tspan><tspan dy="3.26"> mol</tspan><tspan font-size="5.14" dy="-3.26">−1</tspan><tspan dy="3.26">)</tspan></text><text class="tb" x="429.90" y="245.50" font-size="10.4" font-weight="bold" text-anchor="middle" fill="#111">MNEI, pH 6.8</text><text class="tl" transform="translate(292.30,229.80) scale(0.900,1)" font-size="12.00" font-weight="bold" fill="#111">D</text><path d="M447.00,324.60 H466.70" stroke="#8a1a1a" stroke-width="1.25"/><text class="t" x="468.80" y="327.75" font-size="8.65" fill="#1e1e1e">MNEI 25°C</text><path d="M447.00,334.86 H466.70" stroke="#ee1c1c" stroke-width="1.60"/><text class="t" x="468.80" y="338.01" font-size="8.65" fill="#1e1e1e">MNEI 35°C</text><path d="M447.00,345.12 H466.70" stroke="#2020ff" stroke-width="1.25"/><text class="t" x="468.80" y="348.27" font-size="8.65" fill="#1e1e1e">MNEI 45°C</text><path d="M447.00,355.38 H466.70" stroke="#ff20ff" stroke-width="1.25"/><text class="t" x="468.80" y="358.53" font-size="8.65" fill="#1e1e1e">MNEI 55°C</text><path d="M447.00,365.64 H466.70" stroke="#119911" stroke-width="1.25"/><text class="t" x="468.80" y="368.79" font-size="8.65" fill="#1e1e1e">MNEI 65°C</text><path d="M447.00,375.90 H466.70" stroke="#2a2a8e" stroke-width="1.80"/><text class="t" x="468.80" y="379.05" font-size="8.65" fill="#1e1e1e">MNEI 75°C</text><path d="M447.00,386.16 H466.70" stroke="#ff2080" stroke-width="1.60"/><text class="t" x="468.80" y="389.31" font-size="8.65" fill="#1e1e1e">MNEI 85°C</text><path d="M447.00,396.42 H466.70" stroke="#444444" stroke-width="1.25"/><text class="t" x="468.80" y="399.57" font-size="8.65" fill="#1e1e1e">MNEI 95°C</text><path d="M447.00,406.68 H466.70" stroke="#222222" stroke-width="1.1" stroke-dasharray="4.5,3.3"/><text class="t" x="468.80" y="409.83" font-size="8.65" fill="#1e1e1e">MNEI back to 25°C</text></g>
</svg></body></html>
